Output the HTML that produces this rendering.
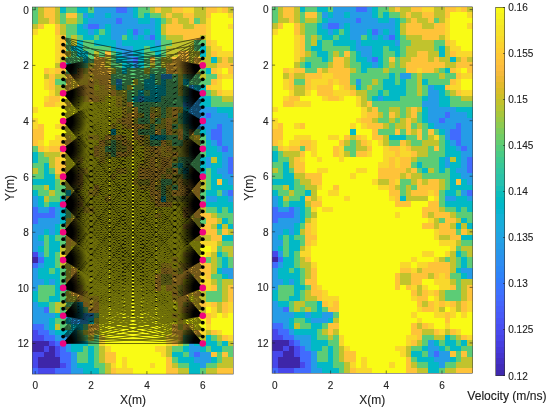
<!DOCTYPE html>
<html><head><meta charset="utf-8"><title>Velocity tomography</title>
<style>
html,body{margin:0;padding:0;background:#fff}
svg{display:block}
text{font-family:"Liberation Sans",sans-serif;fill:#222;stroke:#222;stroke-width:0.12px}
.tk{font-size:10.8px}
.lb{font-size:12px}
.vl{font-size:12.1px;fill:#1a1a1a}
</style></head><body>
<svg width="550" height="409" viewBox="0 0 550 409">
<rect width="550" height="409" fill="#fff"/>
<defs><g id="hm" shape-rendering="crispEdges">
<rect x="0" y="0" width="1.01" height="1.01" fill="#5ccc76"/>
<rect x="0.99" y="0" width="1.02" height="1.01" fill="#c1c32d"/>
<rect x="1.99" y="0" width="2.02" height="1.01" fill="#fec339"/>
<rect x="3.99" y="0" width="1.02" height="1.01" fill="#c1c32d"/>
<rect x="4.99" y="0" width="1.02" height="1.01" fill="#01b9c6"/>
<rect x="5.99" y="0" width="2.02" height="1.01" fill="#5ccc76"/>
<rect x="7.99" y="0" width="2.02" height="1.01" fill="#01b9c6"/>
<rect x="9.99" y="0" width="1.02" height="1.01" fill="#5ccc76"/>
<rect x="10.99" y="0" width="4.02" height="1.01" fill="#259ce7"/>
<rect x="14.99" y="0" width="2.02" height="1.01" fill="#416bfe"/>
<rect x="16.99" y="0" width="1.02" height="1.01" fill="#259ce7"/>
<rect x="17.99" y="0" width="1.02" height="1.01" fill="#01b9c6"/>
<rect x="18.99" y="0" width="2.02" height="1.01" fill="#5ccc76"/>
<rect x="20.99" y="0" width="1.02" height="1.01" fill="#c1c32d"/>
<rect x="21.99" y="0" width="1.02" height="1.01" fill="#fec339"/>
<rect x="22.99" y="0" width="2.02" height="1.01" fill="#c1c32d"/>
<rect x="24.99" y="0" width="2.02" height="1.01" fill="#fec339"/>
<rect x="26.99" y="0" width="2.02" height="1.01" fill="#f9d82c"/>
<rect x="28.99" y="0" width="2.02" height="1.01" fill="#c1c32d"/>
<rect x="30.99" y="0" width="2.02" height="1.01" fill="#fec339"/>
<rect x="32.99" y="0" width="1.02" height="1.01" fill="#f9d82c"/>
<rect x="33.99" y="0" width="1.02" height="1.01" fill="#fec339"/>
<rect x="34.99" y="0" width="1.01" height="1.01" fill="#c1c32d"/>
<rect x="0" y="0.99" width="1.01" height="1.02" fill="#5ccc76"/>
<rect x="0.99" y="0.99" width="1.02" height="1.02" fill="#c1c32d"/>
<rect x="1.99" y="0.99" width="2.02" height="1.02" fill="#fec339"/>
<rect x="3.99" y="0.99" width="1.02" height="1.02" fill="#c1c32d"/>
<rect x="4.99" y="0.99" width="1.02" height="1.02" fill="#5ccc76"/>
<rect x="5.99" y="0.99" width="2.02" height="1.02" fill="#fec339"/>
<rect x="7.99" y="0.99" width="1.02" height="1.02" fill="#5ccc76"/>
<rect x="8.99" y="0.99" width="1.02" height="1.02" fill="#259ce7"/>
<rect x="9.99" y="0.99" width="1.02" height="1.02" fill="#01b9c6"/>
<rect x="10.99" y="0.99" width="2.02" height="1.02" fill="#259ce7"/>
<rect x="12.99" y="0.99" width="1.02" height="1.02" fill="#01b9c6"/>
<rect x="13.99" y="0.99" width="4.02" height="1.02" fill="#259ce7"/>
<rect x="17.99" y="0.99" width="1.02" height="1.02" fill="#01b9c6"/>
<rect x="18.99" y="0.99" width="1.02" height="1.02" fill="#5ccc76"/>
<rect x="19.99" y="0.99" width="1.02" height="1.02" fill="#01b9c6"/>
<rect x="20.99" y="0.99" width="2.02" height="1.02" fill="#5ccc76"/>
<rect x="22.99" y="0.99" width="1.02" height="1.02" fill="#c1c32d"/>
<rect x="23.99" y="0.99" width="1.02" height="1.02" fill="#fec339"/>
<rect x="24.99" y="0.99" width="2.02" height="1.02" fill="#c1c32d"/>
<rect x="26.99" y="0.99" width="2.02" height="1.02" fill="#fec339"/>
<rect x="28.99" y="0.99" width="2.02" height="1.02" fill="#c1c32d"/>
<rect x="30.99" y="0.99" width="1.02" height="1.02" fill="#fec339"/>
<rect x="31.99" y="0.99" width="3.02" height="1.02" fill="#f9fb15"/>
<rect x="34.99" y="0.99" width="1.01" height="1.02" fill="#f9d82c"/>
<rect x="0" y="1.99" width="1.01" height="1.02" fill="#5ccc76"/>
<rect x="0.99" y="1.99" width="2.02" height="1.02" fill="#c1c32d"/>
<rect x="2.99" y="1.99" width="1.02" height="1.02" fill="#fec339"/>
<rect x="3.99" y="1.99" width="1.02" height="1.02" fill="#c1c32d"/>
<rect x="4.99" y="1.99" width="1.02" height="1.02" fill="#5ccc76"/>
<rect x="5.99" y="1.99" width="2.02" height="1.02" fill="#c1c32d"/>
<rect x="7.99" y="1.99" width="1.02" height="1.02" fill="#5ccc76"/>
<rect x="8.99" y="1.99" width="1.02" height="1.02" fill="#01b9c6"/>
<rect x="9.99" y="1.99" width="5.02" height="1.02" fill="#259ce7"/>
<rect x="14.99" y="1.99" width="1.02" height="1.02" fill="#416bfe"/>
<rect x="15.99" y="1.99" width="3.02" height="1.02" fill="#259ce7"/>
<rect x="18.99" y="1.99" width="2.02" height="1.02" fill="#01b9c6"/>
<rect x="20.99" y="1.99" width="1.02" height="1.02" fill="#259ce7"/>
<rect x="21.99" y="1.99" width="1.02" height="1.02" fill="#01b9c6"/>
<rect x="22.99" y="1.99" width="1.02" height="1.02" fill="#5ccc76"/>
<rect x="23.99" y="1.99" width="1.02" height="1.02" fill="#c1c32d"/>
<rect x="24.99" y="1.99" width="1.02" height="1.02" fill="#fec339"/>
<rect x="25.99" y="1.99" width="2.02" height="1.02" fill="#c1c32d"/>
<rect x="27.99" y="1.99" width="1.02" height="1.02" fill="#fec339"/>
<rect x="28.99" y="1.99" width="1.02" height="1.02" fill="#5ccc76"/>
<rect x="29.99" y="1.99" width="1.02" height="1.02" fill="#c1c32d"/>
<rect x="30.99" y="1.99" width="1.02" height="1.02" fill="#f9d82c"/>
<rect x="31.99" y="1.99" width="4.01" height="1.02" fill="#f9fb15"/>
<rect x="0" y="2.99" width="1.01" height="1.02" fill="#c1c32d"/>
<rect x="0.99" y="2.99" width="1.02" height="1.02" fill="#fec339"/>
<rect x="1.99" y="2.99" width="2.02" height="1.02" fill="#f9fb15"/>
<rect x="3.99" y="2.99" width="1.02" height="1.02" fill="#fec339"/>
<rect x="4.99" y="2.99" width="1.02" height="1.02" fill="#c1c32d"/>
<rect x="5.99" y="2.99" width="2.02" height="1.02" fill="#5ccc76"/>
<rect x="7.99" y="2.99" width="1.02" height="1.02" fill="#01b9c6"/>
<rect x="8.99" y="2.99" width="1.02" height="1.02" fill="#259ce7"/>
<rect x="9.99" y="2.99" width="2.02" height="1.02" fill="#416bfe"/>
<rect x="11.99" y="2.99" width="1.02" height="1.02" fill="#259ce7"/>
<rect x="12.99" y="2.99" width="1.02" height="1.02" fill="#01b9c6"/>
<rect x="13.99" y="2.99" width="8.02" height="1.02" fill="#259ce7"/>
<rect x="21.99" y="2.99" width="1.02" height="1.02" fill="#01b9c6"/>
<rect x="22.99" y="2.99" width="1.02" height="1.02" fill="#c1c32d"/>
<rect x="23.99" y="2.99" width="3.02" height="1.02" fill="#fec339"/>
<rect x="26.99" y="2.99" width="2.02" height="1.02" fill="#c1c32d"/>
<rect x="28.99" y="2.99" width="2.02" height="1.02" fill="#fec339"/>
<rect x="30.99" y="2.99" width="1.02" height="1.02" fill="#f9d82c"/>
<rect x="31.99" y="2.99" width="3.02" height="1.02" fill="#f9fb15"/>
<rect x="34.99" y="2.99" width="1.01" height="1.02" fill="#f9d82c"/>
<rect x="0" y="3.99" width="1.01" height="1.02" fill="#f9d82c"/>
<rect x="0.99" y="3.99" width="3.02" height="1.02" fill="#f9fb15"/>
<rect x="3.99" y="3.99" width="1.02" height="1.02" fill="#fec339"/>
<rect x="4.99" y="3.99" width="1.02" height="1.02" fill="#c1c32d"/>
<rect x="5.99" y="3.99" width="2.02" height="1.02" fill="#5ccc76"/>
<rect x="7.99" y="3.99" width="2.02" height="1.02" fill="#01b9c6"/>
<rect x="9.99" y="3.99" width="1.02" height="1.02" fill="#259ce7"/>
<rect x="10.99" y="3.99" width="1.02" height="1.02" fill="#01b9c6"/>
<rect x="11.99" y="3.99" width="1.02" height="1.02" fill="#5ccc76"/>
<rect x="12.99" y="3.99" width="1.02" height="1.02" fill="#01b9c6"/>
<rect x="13.99" y="3.99" width="3.02" height="1.02" fill="#259ce7"/>
<rect x="16.99" y="3.99" width="1.02" height="1.02" fill="#01b9c6"/>
<rect x="17.99" y="3.99" width="1.02" height="1.02" fill="#416bfe"/>
<rect x="18.99" y="3.99" width="1.02" height="1.02" fill="#259ce7"/>
<rect x="19.99" y="3.99" width="1.02" height="1.02" fill="#01b9c6"/>
<rect x="20.99" y="3.99" width="1.02" height="1.02" fill="#259ce7"/>
<rect x="21.99" y="3.99" width="1.02" height="1.02" fill="#01b9c6"/>
<rect x="22.99" y="3.99" width="1.02" height="1.02" fill="#c1c32d"/>
<rect x="23.99" y="3.99" width="7.02" height="1.02" fill="#fec339"/>
<rect x="30.99" y="3.99" width="1.02" height="1.02" fill="#f9d82c"/>
<rect x="31.99" y="3.99" width="4.01" height="1.02" fill="#f9fb15"/>
<rect x="0" y="4.99" width="4.01" height="1.02" fill="#f9fb15"/>
<rect x="3.99" y="4.99" width="1.02" height="1.02" fill="#f9d82c"/>
<rect x="4.99" y="4.99" width="1.02" height="1.02" fill="#fec339"/>
<rect x="5.99" y="4.99" width="1.02" height="1.02" fill="#5ccc76"/>
<rect x="6.99" y="4.99" width="1.02" height="1.02" fill="#c1c32d"/>
<rect x="7.99" y="4.99" width="1.02" height="1.02" fill="#5ccc76"/>
<rect x="8.99" y="4.99" width="2.02" height="1.02" fill="#01b9c6"/>
<rect x="10.99" y="4.99" width="1.02" height="1.02" fill="#5ccc76"/>
<rect x="11.99" y="4.99" width="2.02" height="1.02" fill="#01b9c6"/>
<rect x="13.99" y="4.99" width="2.02" height="1.02" fill="#259ce7"/>
<rect x="15.99" y="4.99" width="1.02" height="1.02" fill="#5ccc76"/>
<rect x="16.99" y="4.99" width="1.02" height="1.02" fill="#01b9c6"/>
<rect x="17.99" y="4.99" width="1.02" height="1.02" fill="#259ce7"/>
<rect x="18.99" y="4.99" width="1.02" height="1.02" fill="#01b9c6"/>
<rect x="19.99" y="4.99" width="1.02" height="1.02" fill="#259ce7"/>
<rect x="20.99" y="4.99" width="1.02" height="1.02" fill="#416bfe"/>
<rect x="21.99" y="4.99" width="1.02" height="1.02" fill="#01b9c6"/>
<rect x="22.99" y="4.99" width="1.02" height="1.02" fill="#5ccc76"/>
<rect x="23.99" y="4.99" width="3.02" height="1.02" fill="#c1c32d"/>
<rect x="26.99" y="4.99" width="3.02" height="1.02" fill="#fec339"/>
<rect x="29.99" y="4.99" width="1.02" height="1.02" fill="#c1c32d"/>
<rect x="30.99" y="4.99" width="1.02" height="1.02" fill="#f9d82c"/>
<rect x="31.99" y="4.99" width="4.01" height="1.02" fill="#f9fb15"/>
<rect x="0" y="5.99" width="4.01" height="1.02" fill="#f9fb15"/>
<rect x="3.99" y="5.99" width="1.02" height="1.02" fill="#f9d82c"/>
<rect x="4.99" y="5.99" width="1.02" height="1.02" fill="#fec339"/>
<rect x="5.99" y="5.99" width="1.02" height="1.02" fill="#5ccc76"/>
<rect x="6.99" y="5.99" width="1.02" height="1.02" fill="#c1c32d"/>
<rect x="7.99" y="5.99" width="1.02" height="1.02" fill="#01b9c6"/>
<rect x="8.99" y="5.99" width="2.02" height="1.02" fill="#5ccc76"/>
<rect x="10.99" y="5.99" width="4.02" height="1.02" fill="#01b9c6"/>
<rect x="14.99" y="5.99" width="1.02" height="1.02" fill="#259ce7"/>
<rect x="15.99" y="5.99" width="6.02" height="1.02" fill="#01b9c6"/>
<rect x="21.99" y="5.99" width="1.02" height="1.02" fill="#259ce7"/>
<rect x="22.99" y="5.99" width="2.02" height="1.02" fill="#5ccc76"/>
<rect x="24.99" y="5.99" width="4.02" height="1.02" fill="#c1c32d"/>
<rect x="28.99" y="5.99" width="2.02" height="1.02" fill="#5ccc76"/>
<rect x="30.99" y="5.99" width="1.02" height="1.02" fill="#fec339"/>
<rect x="31.99" y="5.99" width="1.02" height="1.02" fill="#f9d82c"/>
<rect x="32.99" y="5.99" width="3.01" height="1.02" fill="#f9fb15"/>
<rect x="0" y="6.99" width="4.01" height="1.02" fill="#f9fb15"/>
<rect x="3.99" y="6.99" width="1.02" height="1.02" fill="#f9d82c"/>
<rect x="4.99" y="6.99" width="1.02" height="1.02" fill="#fec339"/>
<rect x="5.99" y="6.99" width="1.02" height="1.02" fill="#5ccc76"/>
<rect x="6.99" y="6.99" width="2.02" height="1.02" fill="#01b9c6"/>
<rect x="8.99" y="6.99" width="5.02" height="1.02" fill="#5ccc76"/>
<rect x="13.99" y="6.99" width="1.02" height="1.02" fill="#01b9c6"/>
<rect x="14.99" y="6.99" width="3.02" height="1.02" fill="#259ce7"/>
<rect x="17.99" y="6.99" width="2.02" height="1.02" fill="#01b9c6"/>
<rect x="19.99" y="6.99" width="1.02" height="1.02" fill="#5ccc76"/>
<rect x="20.99" y="6.99" width="2.02" height="1.02" fill="#01b9c6"/>
<rect x="22.99" y="6.99" width="1.02" height="1.02" fill="#5ccc76"/>
<rect x="23.99" y="6.99" width="5.02" height="1.02" fill="#c1c32d"/>
<rect x="28.99" y="6.99" width="1.02" height="1.02" fill="#5ccc76"/>
<rect x="29.99" y="6.99" width="1.02" height="1.02" fill="#01b9c6"/>
<rect x="30.99" y="6.99" width="1.02" height="1.02" fill="#c1c32d"/>
<rect x="31.99" y="6.99" width="2.02" height="1.02" fill="#f9d82c"/>
<rect x="33.99" y="6.99" width="2.01" height="1.02" fill="#f9fb15"/>
<rect x="0" y="7.99" width="4.01" height="1.02" fill="#f9fb15"/>
<rect x="3.99" y="7.99" width="1.02" height="1.02" fill="#f9d82c"/>
<rect x="4.99" y="7.99" width="1.02" height="1.02" fill="#fec339"/>
<rect x="5.99" y="7.99" width="1.02" height="1.02" fill="#c1c32d"/>
<rect x="6.99" y="7.99" width="1.02" height="1.02" fill="#5ccc76"/>
<rect x="7.99" y="7.99" width="2.02" height="1.02" fill="#01b9c6"/>
<rect x="9.99" y="7.99" width="1.02" height="1.02" fill="#5ccc76"/>
<rect x="10.99" y="7.99" width="1.02" height="1.02" fill="#c1c32d"/>
<rect x="11.99" y="7.99" width="1.02" height="1.02" fill="#5ccc76"/>
<rect x="12.99" y="7.99" width="1.02" height="1.02" fill="#fec339"/>
<rect x="13.99" y="7.99" width="1.02" height="1.02" fill="#5ccc76"/>
<rect x="14.99" y="7.99" width="1.02" height="1.02" fill="#01b9c6"/>
<rect x="15.99" y="7.99" width="2.02" height="1.02" fill="#259ce7"/>
<rect x="17.99" y="7.99" width="2.02" height="1.02" fill="#01b9c6"/>
<rect x="19.99" y="7.99" width="2.02" height="1.02" fill="#5ccc76"/>
<rect x="21.99" y="7.99" width="1.02" height="1.02" fill="#01b9c6"/>
<rect x="22.99" y="7.99" width="1.02" height="1.02" fill="#5ccc76"/>
<rect x="23.99" y="7.99" width="2.02" height="1.02" fill="#c1c32d"/>
<rect x="25.99" y="7.99" width="2.02" height="1.02" fill="#fec339"/>
<rect x="27.99" y="7.99" width="2.02" height="1.02" fill="#c1c32d"/>
<rect x="29.99" y="7.99" width="1.02" height="1.02" fill="#01b9c6"/>
<rect x="30.99" y="7.99" width="1.02" height="1.02" fill="#c1c32d"/>
<rect x="31.99" y="7.99" width="1.02" height="1.02" fill="#fec339"/>
<rect x="32.99" y="7.99" width="3.01" height="1.02" fill="#f9d82c"/>
<rect x="0" y="8.99" width="4.01" height="1.02" fill="#f9fb15"/>
<rect x="3.99" y="8.99" width="1.02" height="1.02" fill="#f9d82c"/>
<rect x="4.99" y="8.99" width="1.02" height="1.02" fill="#c1c32d"/>
<rect x="5.99" y="8.99" width="3.02" height="1.02" fill="#5ccc76"/>
<rect x="8.99" y="8.99" width="1.02" height="1.02" fill="#01b9c6"/>
<rect x="9.99" y="8.99" width="1.02" height="1.02" fill="#5ccc76"/>
<rect x="10.99" y="8.99" width="2.02" height="1.02" fill="#fec339"/>
<rect x="12.99" y="8.99" width="1.02" height="1.02" fill="#c1c32d"/>
<rect x="13.99" y="8.99" width="1.02" height="1.02" fill="#5ccc76"/>
<rect x="14.99" y="8.99" width="2.02" height="1.02" fill="#01b9c6"/>
<rect x="16.99" y="8.99" width="1.02" height="1.02" fill="#259ce7"/>
<rect x="17.99" y="8.99" width="1.02" height="1.02" fill="#416bfe"/>
<rect x="18.99" y="8.99" width="1.02" height="1.02" fill="#01b9c6"/>
<rect x="19.99" y="8.99" width="1.02" height="1.02" fill="#5ccc76"/>
<rect x="20.99" y="8.99" width="1.02" height="1.02" fill="#fec339"/>
<rect x="21.99" y="8.99" width="1.02" height="1.02" fill="#5ccc76"/>
<rect x="22.99" y="8.99" width="2.02" height="1.02" fill="#c1c32d"/>
<rect x="24.99" y="8.99" width="3.02" height="1.02" fill="#fec339"/>
<rect x="27.99" y="8.99" width="1.02" height="1.02" fill="#c1c32d"/>
<rect x="28.99" y="8.99" width="1.02" height="1.02" fill="#fec339"/>
<rect x="29.99" y="8.99" width="2.02" height="1.02" fill="#c1c32d"/>
<rect x="31.99" y="8.99" width="1.02" height="1.02" fill="#01b9c6"/>
<rect x="32.99" y="8.99" width="1.02" height="1.02" fill="#c1c32d"/>
<rect x="33.99" y="8.99" width="1.02" height="1.02" fill="#fec339"/>
<rect x="34.99" y="8.99" width="1.01" height="1.02" fill="#c1c32d"/>
<rect x="0" y="9.99" width="4.01" height="1.02" fill="#f9fb15"/>
<rect x="3.99" y="9.99" width="1.02" height="1.02" fill="#c1c32d"/>
<rect x="4.99" y="9.99" width="1.02" height="1.02" fill="#5ccc76"/>
<rect x="5.99" y="9.99" width="1.02" height="1.02" fill="#01b9c6"/>
<rect x="6.99" y="9.99" width="3.02" height="1.02" fill="#5ccc76"/>
<rect x="9.99" y="9.99" width="1.02" height="1.02" fill="#c1c32d"/>
<rect x="10.99" y="9.99" width="2.02" height="1.02" fill="#fec339"/>
<rect x="12.99" y="9.99" width="1.02" height="1.02" fill="#c1c32d"/>
<rect x="13.99" y="9.99" width="2.02" height="1.02" fill="#5ccc76"/>
<rect x="15.99" y="9.99" width="2.02" height="1.02" fill="#01b9c6"/>
<rect x="17.99" y="9.99" width="1.02" height="1.02" fill="#259ce7"/>
<rect x="18.99" y="9.99" width="1.02" height="1.02" fill="#01b9c6"/>
<rect x="19.99" y="9.99" width="1.02" height="1.02" fill="#5ccc76"/>
<rect x="20.99" y="9.99" width="1.02" height="1.02" fill="#c1c32d"/>
<rect x="21.99" y="9.99" width="1.02" height="1.02" fill="#5ccc76"/>
<rect x="22.99" y="9.99" width="1.02" height="1.02" fill="#c1c32d"/>
<rect x="23.99" y="9.99" width="7.02" height="1.02" fill="#fec339"/>
<rect x="30.99" y="9.99" width="2.02" height="1.02" fill="#c1c32d"/>
<rect x="32.99" y="9.99" width="3.01" height="1.02" fill="#fec339"/>
<rect x="0" y="10.99" width="2.01" height="1.02" fill="#f9fb15"/>
<rect x="1.99" y="10.99" width="1.02" height="1.02" fill="#fec339"/>
<rect x="2.99" y="10.99" width="1.02" height="1.02" fill="#f9d82c"/>
<rect x="3.99" y="10.99" width="2.02" height="1.02" fill="#fec339"/>
<rect x="5.99" y="10.99" width="2.02" height="1.02" fill="#5ccc76"/>
<rect x="7.99" y="10.99" width="1.02" height="1.02" fill="#fec339"/>
<rect x="8.99" y="10.99" width="1.02" height="1.02" fill="#c1c32d"/>
<rect x="9.99" y="10.99" width="4.02" height="1.02" fill="#fec339"/>
<rect x="13.99" y="10.99" width="1.02" height="1.02" fill="#c1c32d"/>
<rect x="14.99" y="10.99" width="1.02" height="1.02" fill="#5ccc76"/>
<rect x="15.99" y="10.99" width="1.02" height="1.02" fill="#01b9c6"/>
<rect x="16.99" y="10.99" width="3.02" height="1.02" fill="#5ccc76"/>
<rect x="19.99" y="10.99" width="1.02" height="1.02" fill="#c1c32d"/>
<rect x="20.99" y="10.99" width="3.02" height="1.02" fill="#5ccc76"/>
<rect x="23.99" y="10.99" width="2.02" height="1.02" fill="#fec339"/>
<rect x="25.99" y="10.99" width="1.02" height="1.02" fill="#f9d82c"/>
<rect x="26.99" y="10.99" width="2.02" height="1.02" fill="#fec339"/>
<rect x="28.99" y="10.99" width="1.02" height="1.02" fill="#c1c32d"/>
<rect x="29.99" y="10.99" width="1.02" height="1.02" fill="#5ccc76"/>
<rect x="30.99" y="10.99" width="1.02" height="1.02" fill="#01b9c6"/>
<rect x="31.99" y="10.99" width="1.02" height="1.02" fill="#fec339"/>
<rect x="32.99" y="10.99" width="1.02" height="1.02" fill="#f9d82c"/>
<rect x="33.99" y="10.99" width="1.02" height="1.02" fill="#f9fb15"/>
<rect x="34.99" y="10.99" width="1.01" height="1.02" fill="#fec339"/>
<rect x="0" y="11.99" width="2.01" height="1.02" fill="#f9fb15"/>
<rect x="1.99" y="11.99" width="1.02" height="1.02" fill="#c1c32d"/>
<rect x="2.99" y="11.99" width="1.02" height="1.02" fill="#fec339"/>
<rect x="3.99" y="11.99" width="2.02" height="1.02" fill="#c1c32d"/>
<rect x="5.99" y="11.99" width="3.02" height="1.02" fill="#fec339"/>
<rect x="8.99" y="11.99" width="2.02" height="1.02" fill="#f9d82c"/>
<rect x="10.99" y="11.99" width="3.02" height="1.02" fill="#fec339"/>
<rect x="13.99" y="11.99" width="7.02" height="1.02" fill="#5ccc76"/>
<rect x="20.99" y="11.99" width="1.02" height="1.02" fill="#01b9c6"/>
<rect x="21.99" y="11.99" width="1.02" height="1.02" fill="#5ccc76"/>
<rect x="22.99" y="11.99" width="2.02" height="1.02" fill="#259ce7"/>
<rect x="24.99" y="11.99" width="1.02" height="1.02" fill="#5ccc76"/>
<rect x="25.99" y="11.99" width="1.02" height="1.02" fill="#c1c32d"/>
<rect x="26.99" y="11.99" width="3.02" height="1.02" fill="#5ccc76"/>
<rect x="29.99" y="11.99" width="1.02" height="1.02" fill="#c1c32d"/>
<rect x="30.99" y="11.99" width="2.02" height="1.02" fill="#5ccc76"/>
<rect x="32.99" y="11.99" width="1.02" height="1.02" fill="#fec339"/>
<rect x="33.99" y="11.99" width="2.01" height="1.02" fill="#f9d82c"/>
<rect x="0" y="12.99" width="2.01" height="1.02" fill="#f9fb15"/>
<rect x="1.99" y="12.99" width="1.02" height="1.02" fill="#f9d82c"/>
<rect x="2.99" y="12.99" width="1.02" height="1.02" fill="#fec339"/>
<rect x="3.99" y="12.99" width="2.02" height="1.02" fill="#5ccc76"/>
<rect x="5.99" y="12.99" width="1.02" height="1.02" fill="#fec339"/>
<rect x="6.99" y="12.99" width="3.02" height="1.02" fill="#f9d82c"/>
<rect x="9.99" y="12.99" width="1.02" height="1.02" fill="#fec339"/>
<rect x="10.99" y="12.99" width="1.02" height="1.02" fill="#f9d82c"/>
<rect x="11.99" y="12.99" width="2.02" height="1.02" fill="#fec339"/>
<rect x="13.99" y="12.99" width="1.02" height="1.02" fill="#5ccc76"/>
<rect x="14.99" y="12.99" width="1.02" height="1.02" fill="#259ce7"/>
<rect x="15.99" y="12.99" width="2.02" height="1.02" fill="#5ccc76"/>
<rect x="17.99" y="12.99" width="1.02" height="1.02" fill="#c1c32d"/>
<rect x="18.99" y="12.99" width="1.02" height="1.02" fill="#5ccc76"/>
<rect x="19.99" y="12.99" width="2.02" height="1.02" fill="#01b9c6"/>
<rect x="21.99" y="12.99" width="1.02" height="1.02" fill="#5ccc76"/>
<rect x="22.99" y="12.99" width="1.02" height="1.02" fill="#01b9c6"/>
<rect x="23.99" y="12.99" width="2.02" height="1.02" fill="#5ccc76"/>
<rect x="25.99" y="12.99" width="1.02" height="1.02" fill="#c1c32d"/>
<rect x="26.99" y="12.99" width="1.02" height="1.02" fill="#01b9c6"/>
<rect x="27.99" y="12.99" width="4.02" height="1.02" fill="#5ccc76"/>
<rect x="31.99" y="12.99" width="1.02" height="1.02" fill="#fec339"/>
<rect x="32.99" y="12.99" width="1.02" height="1.02" fill="#f9d82c"/>
<rect x="33.99" y="12.99" width="2.01" height="1.02" fill="#f9fb15"/>
<rect x="0" y="13.99" width="2.01" height="1.02" fill="#f9fb15"/>
<rect x="1.99" y="13.99" width="1.02" height="1.02" fill="#f9d82c"/>
<rect x="2.99" y="13.99" width="1.02" height="1.02" fill="#fec339"/>
<rect x="3.99" y="13.99" width="2.02" height="1.02" fill="#c1c32d"/>
<rect x="5.99" y="13.99" width="1.02" height="1.02" fill="#fec339"/>
<rect x="6.99" y="13.99" width="1.02" height="1.02" fill="#f9d82c"/>
<rect x="7.99" y="13.99" width="3.02" height="1.02" fill="#fec339"/>
<rect x="10.99" y="13.99" width="1.02" height="1.02" fill="#f9fb15"/>
<rect x="11.99" y="13.99" width="1.02" height="1.02" fill="#f9d82c"/>
<rect x="12.99" y="13.99" width="1.02" height="1.02" fill="#fec339"/>
<rect x="13.99" y="13.99" width="1.02" height="1.02" fill="#c1c32d"/>
<rect x="14.99" y="13.99" width="1.02" height="1.02" fill="#01b9c6"/>
<rect x="15.99" y="13.99" width="1.02" height="1.02" fill="#5ccc76"/>
<rect x="16.99" y="13.99" width="1.02" height="1.02" fill="#c1c32d"/>
<rect x="17.99" y="13.99" width="2.02" height="1.02" fill="#5ccc76"/>
<rect x="19.99" y="13.99" width="4.02" height="1.02" fill="#01b9c6"/>
<rect x="23.99" y="13.99" width="2.02" height="1.02" fill="#5ccc76"/>
<rect x="25.99" y="13.99" width="1.02" height="1.02" fill="#c1c32d"/>
<rect x="26.99" y="13.99" width="1.02" height="1.02" fill="#5ccc76"/>
<rect x="27.99" y="13.99" width="1.02" height="1.02" fill="#259ce7"/>
<rect x="28.99" y="13.99" width="2.02" height="1.02" fill="#01b9c6"/>
<rect x="30.99" y="13.99" width="1.02" height="1.02" fill="#fec339"/>
<rect x="31.99" y="13.99" width="2.02" height="1.02" fill="#f9d82c"/>
<rect x="33.99" y="13.99" width="2.01" height="1.02" fill="#f9fb15"/>
<rect x="0" y="14.99" width="3.01" height="1.02" fill="#f9fb15"/>
<rect x="2.99" y="14.99" width="1.02" height="1.02" fill="#f9d82c"/>
<rect x="3.99" y="14.99" width="2.02" height="1.02" fill="#c1c32d"/>
<rect x="5.99" y="14.99" width="1.02" height="1.02" fill="#f9d82c"/>
<rect x="6.99" y="14.99" width="1.02" height="1.02" fill="#f9fb15"/>
<rect x="7.99" y="14.99" width="3.02" height="1.02" fill="#fec339"/>
<rect x="10.99" y="14.99" width="3.02" height="1.02" fill="#f9d82c"/>
<rect x="13.99" y="14.99" width="1.02" height="1.02" fill="#fec339"/>
<rect x="14.99" y="14.99" width="2.02" height="1.02" fill="#c1c32d"/>
<rect x="16.99" y="14.99" width="2.02" height="1.02" fill="#5ccc76"/>
<rect x="18.99" y="14.99" width="1.02" height="1.02" fill="#01b9c6"/>
<rect x="19.99" y="14.99" width="1.02" height="1.02" fill="#5ccc76"/>
<rect x="20.99" y="14.99" width="3.02" height="1.02" fill="#01b9c6"/>
<rect x="23.99" y="14.99" width="2.02" height="1.02" fill="#5ccc76"/>
<rect x="25.99" y="14.99" width="1.02" height="1.02" fill="#c1c32d"/>
<rect x="26.99" y="14.99" width="1.02" height="1.02" fill="#5ccc76"/>
<rect x="27.99" y="14.99" width="2.02" height="1.02" fill="#259ce7"/>
<rect x="29.99" y="14.99" width="1.02" height="1.02" fill="#01b9c6"/>
<rect x="30.99" y="14.99" width="1.02" height="1.02" fill="#5ccc76"/>
<rect x="31.99" y="14.99" width="1.02" height="1.02" fill="#c1c32d"/>
<rect x="32.99" y="14.99" width="1.02" height="1.02" fill="#fec339"/>
<rect x="33.99" y="14.99" width="2.01" height="1.02" fill="#f9d82c"/>
<rect x="0" y="15.99" width="2.01" height="1.02" fill="#f9fb15"/>
<rect x="1.99" y="15.99" width="1.02" height="1.02" fill="#f9d82c"/>
<rect x="2.99" y="15.99" width="2.02" height="1.02" fill="#fec339"/>
<rect x="4.99" y="15.99" width="4.02" height="1.02" fill="#f9fb15"/>
<rect x="8.99" y="15.99" width="1.02" height="1.02" fill="#f9d82c"/>
<rect x="9.99" y="15.99" width="2.02" height="1.02" fill="#fec339"/>
<rect x="11.99" y="15.99" width="1.02" height="1.02" fill="#f9d82c"/>
<rect x="12.99" y="15.99" width="2.02" height="1.02" fill="#f9fb15"/>
<rect x="14.99" y="15.99" width="1.02" height="1.02" fill="#f9d82c"/>
<rect x="15.99" y="15.99" width="1.02" height="1.02" fill="#c1c32d"/>
<rect x="16.99" y="15.99" width="1.02" height="1.02" fill="#5ccc76"/>
<rect x="17.99" y="15.99" width="1.02" height="1.02" fill="#01b9c6"/>
<rect x="18.99" y="15.99" width="1.02" height="1.02" fill="#259ce7"/>
<rect x="19.99" y="15.99" width="3.02" height="1.02" fill="#01b9c6"/>
<rect x="22.99" y="15.99" width="4.02" height="1.02" fill="#5ccc76"/>
<rect x="26.99" y="15.99" width="1.02" height="1.02" fill="#01b9c6"/>
<rect x="27.99" y="15.99" width="2.02" height="1.02" fill="#259ce7"/>
<rect x="29.99" y="15.99" width="2.02" height="1.02" fill="#01b9c6"/>
<rect x="31.99" y="15.99" width="2.02" height="1.02" fill="#5ccc76"/>
<rect x="33.99" y="15.99" width="2.01" height="1.02" fill="#c1c32d"/>
<rect x="0" y="16.99" width="2.01" height="1.02" fill="#f9fb15"/>
<rect x="1.99" y="16.99" width="2.02" height="1.02" fill="#fec339"/>
<rect x="3.99" y="16.99" width="3.02" height="1.02" fill="#f9d82c"/>
<rect x="6.99" y="16.99" width="8.02" height="1.02" fill="#f9fb15"/>
<rect x="14.99" y="16.99" width="1.02" height="1.02" fill="#f9d82c"/>
<rect x="15.99" y="16.99" width="1.02" height="1.02" fill="#c1c32d"/>
<rect x="16.99" y="16.99" width="1.02" height="1.02" fill="#fec339"/>
<rect x="17.99" y="16.99" width="9.02" height="1.02" fill="#5ccc76"/>
<rect x="26.99" y="16.99" width="3.02" height="1.02" fill="#259ce7"/>
<rect x="29.99" y="16.99" width="2.02" height="1.02" fill="#01b9c6"/>
<rect x="31.99" y="16.99" width="4.01" height="1.02" fill="#5ccc76"/>
<rect x="0" y="17.99" width="1.01" height="1.02" fill="#f9d82c"/>
<rect x="0.99" y="17.99" width="15.02" height="1.02" fill="#f9fb15"/>
<rect x="15.99" y="17.99" width="1.02" height="1.02" fill="#f9d82c"/>
<rect x="16.99" y="17.99" width="1.02" height="1.02" fill="#c1c32d"/>
<rect x="17.99" y="17.99" width="1.02" height="1.02" fill="#fec339"/>
<rect x="18.99" y="17.99" width="2.02" height="1.02" fill="#5ccc76"/>
<rect x="20.99" y="17.99" width="2.02" height="1.02" fill="#c1c32d"/>
<rect x="22.99" y="17.99" width="1.02" height="1.02" fill="#5ccc76"/>
<rect x="23.99" y="17.99" width="1.02" height="1.02" fill="#c1c32d"/>
<rect x="24.99" y="17.99" width="1.02" height="1.02" fill="#fec339"/>
<rect x="25.99" y="17.99" width="1.02" height="1.02" fill="#c1c32d"/>
<rect x="26.99" y="17.99" width="1.02" height="1.02" fill="#01b9c6"/>
<rect x="27.99" y="17.99" width="5.02" height="1.02" fill="#259ce7"/>
<rect x="32.99" y="17.99" width="3.01" height="1.02" fill="#01b9c6"/>
<rect x="0" y="18.99" width="16.01" height="1.02" fill="#f9fb15"/>
<rect x="15.99" y="18.99" width="1.02" height="1.02" fill="#f9d82c"/>
<rect x="16.99" y="18.99" width="2.02" height="1.02" fill="#fec339"/>
<rect x="18.99" y="18.99" width="1.02" height="1.02" fill="#c1c32d"/>
<rect x="19.99" y="18.99" width="1.02" height="1.02" fill="#5ccc76"/>
<rect x="20.99" y="18.99" width="1.02" height="1.02" fill="#fec339"/>
<rect x="21.99" y="18.99" width="1.02" height="1.02" fill="#c1c32d"/>
<rect x="22.99" y="18.99" width="1.02" height="1.02" fill="#5ccc76"/>
<rect x="23.99" y="18.99" width="1.02" height="1.02" fill="#c1c32d"/>
<rect x="24.99" y="18.99" width="1.02" height="1.02" fill="#fec339"/>
<rect x="25.99" y="18.99" width="1.02" height="1.02" fill="#5ccc76"/>
<rect x="26.99" y="18.99" width="1.02" height="1.02" fill="#01b9c6"/>
<rect x="27.99" y="18.99" width="3.02" height="1.02" fill="#259ce7"/>
<rect x="30.99" y="18.99" width="1.02" height="1.02" fill="#416bfe"/>
<rect x="31.99" y="18.99" width="3.02" height="1.02" fill="#259ce7"/>
<rect x="34.99" y="18.99" width="1.01" height="1.02" fill="#01b9c6"/>
<rect x="0" y="19.99" width="1.01" height="1.02" fill="#f9d82c"/>
<rect x="0.99" y="19.99" width="14.02" height="1.02" fill="#f9fb15"/>
<rect x="14.99" y="19.99" width="1.02" height="1.02" fill="#f9d82c"/>
<rect x="15.99" y="19.99" width="2.02" height="1.02" fill="#fec339"/>
<rect x="17.99" y="19.99" width="1.02" height="1.02" fill="#c1c32d"/>
<rect x="18.99" y="19.99" width="2.02" height="1.02" fill="#5ccc76"/>
<rect x="20.99" y="19.99" width="1.02" height="1.02" fill="#c1c32d"/>
<rect x="21.99" y="19.99" width="1.02" height="1.02" fill="#5ccc76"/>
<rect x="22.99" y="19.99" width="1.02" height="1.02" fill="#c1c32d"/>
<rect x="23.99" y="19.99" width="1.02" height="1.02" fill="#fec339"/>
<rect x="24.99" y="19.99" width="1.02" height="1.02" fill="#c1c32d"/>
<rect x="25.99" y="19.99" width="1.02" height="1.02" fill="#5ccc76"/>
<rect x="26.99" y="19.99" width="1.02" height="1.02" fill="#01b9c6"/>
<rect x="27.99" y="19.99" width="2.02" height="1.02" fill="#259ce7"/>
<rect x="29.99" y="19.99" width="1.02" height="1.02" fill="#416bfe"/>
<rect x="30.99" y="19.99" width="5.01" height="1.02" fill="#259ce7"/>
<rect x="0" y="20.99" width="1.01" height="1.02" fill="#f9d82c"/>
<rect x="0.99" y="20.99" width="1.02" height="1.02" fill="#fec339"/>
<rect x="1.99" y="20.99" width="2.02" height="1.02" fill="#f9fb15"/>
<rect x="3.99" y="20.99" width="1.02" height="1.02" fill="#f9d82c"/>
<rect x="4.99" y="20.99" width="1.02" height="1.02" fill="#fec339"/>
<rect x="5.99" y="20.99" width="8.02" height="1.02" fill="#f9fb15"/>
<rect x="13.99" y="20.99" width="1.02" height="1.02" fill="#f9d82c"/>
<rect x="14.99" y="20.99" width="1.02" height="1.02" fill="#f9fb15"/>
<rect x="15.99" y="20.99" width="1.02" height="1.02" fill="#f9d82c"/>
<rect x="16.99" y="20.99" width="3.02" height="1.02" fill="#fec339"/>
<rect x="19.99" y="20.99" width="1.02" height="1.02" fill="#c1c32d"/>
<rect x="20.99" y="20.99" width="1.02" height="1.02" fill="#5ccc76"/>
<rect x="21.99" y="20.99" width="2.02" height="1.02" fill="#c1c32d"/>
<rect x="23.99" y="20.99" width="1.02" height="1.02" fill="#fec339"/>
<rect x="24.99" y="20.99" width="1.02" height="1.02" fill="#5ccc76"/>
<rect x="25.99" y="20.99" width="1.02" height="1.02" fill="#c1c32d"/>
<rect x="26.99" y="20.99" width="1.02" height="1.02" fill="#5ccc76"/>
<rect x="27.99" y="20.99" width="1.02" height="1.02" fill="#01b9c6"/>
<rect x="28.99" y="20.99" width="4.02" height="1.02" fill="#259ce7"/>
<rect x="32.99" y="20.99" width="1.02" height="1.02" fill="#416bfe"/>
<rect x="33.99" y="20.99" width="2.01" height="1.02" fill="#259ce7"/>
<rect x="0" y="21.99" width="2.01" height="1.02" fill="#fec339"/>
<rect x="1.99" y="21.99" width="12.02" height="1.02" fill="#f9fb15"/>
<rect x="13.99" y="21.99" width="1.02" height="1.02" fill="#01b9c6"/>
<rect x="14.99" y="21.99" width="3.02" height="1.02" fill="#f9fb15"/>
<rect x="17.99" y="21.99" width="1.02" height="1.02" fill="#fec339"/>
<rect x="18.99" y="21.99" width="3.02" height="1.02" fill="#5ccc76"/>
<rect x="21.99" y="21.99" width="1.02" height="1.02" fill="#fec339"/>
<rect x="22.99" y="21.99" width="1.02" height="1.02" fill="#5ccc76"/>
<rect x="23.99" y="21.99" width="1.02" height="1.02" fill="#fec339"/>
<rect x="24.99" y="21.99" width="1.02" height="1.02" fill="#c1c32d"/>
<rect x="25.99" y="21.99" width="1.02" height="1.02" fill="#fec339"/>
<rect x="26.99" y="21.99" width="1.02" height="1.02" fill="#5ccc76"/>
<rect x="27.99" y="21.99" width="1.02" height="1.02" fill="#fec339"/>
<rect x="28.99" y="21.99" width="1.02" height="1.02" fill="#5ccc76"/>
<rect x="29.99" y="21.99" width="1.02" height="1.02" fill="#01b9c6"/>
<rect x="30.99" y="21.99" width="1.02" height="1.02" fill="#259ce7"/>
<rect x="31.99" y="21.99" width="2.02" height="1.02" fill="#416bfe"/>
<rect x="33.99" y="21.99" width="2.01" height="1.02" fill="#259ce7"/>
<rect x="0" y="22.99" width="2.01" height="1.02" fill="#fec339"/>
<rect x="1.99" y="22.99" width="2.02" height="1.02" fill="#f9fb15"/>
<rect x="3.99" y="22.99" width="3.02" height="1.02" fill="#f9d82c"/>
<rect x="6.99" y="22.99" width="3.02" height="1.02" fill="#f9fb15"/>
<rect x="9.99" y="22.99" width="2.02" height="1.02" fill="#f9d82c"/>
<rect x="11.99" y="22.99" width="1.02" height="1.02" fill="#f9fb15"/>
<rect x="12.99" y="22.99" width="1.02" height="1.02" fill="#fec339"/>
<rect x="13.99" y="22.99" width="1.02" height="1.02" fill="#c1c32d"/>
<rect x="14.99" y="22.99" width="1.02" height="1.02" fill="#fec339"/>
<rect x="15.99" y="22.99" width="1.02" height="1.02" fill="#f9d82c"/>
<rect x="16.99" y="22.99" width="1.02" height="1.02" fill="#f9fb15"/>
<rect x="17.99" y="22.99" width="2.02" height="1.02" fill="#fec339"/>
<rect x="19.99" y="22.99" width="1.02" height="1.02" fill="#c1c32d"/>
<rect x="20.99" y="22.99" width="3.02" height="1.02" fill="#01b9c6"/>
<rect x="23.99" y="22.99" width="2.02" height="1.02" fill="#5ccc76"/>
<rect x="25.99" y="22.99" width="1.02" height="1.02" fill="#fec339"/>
<rect x="26.99" y="22.99" width="1.02" height="1.02" fill="#5ccc76"/>
<rect x="27.99" y="22.99" width="1.02" height="1.02" fill="#c1c32d"/>
<rect x="28.99" y="22.99" width="1.02" height="1.02" fill="#f9d82c"/>
<rect x="29.99" y="22.99" width="1.02" height="1.02" fill="#5ccc76"/>
<rect x="30.99" y="22.99" width="1.02" height="1.02" fill="#259ce7"/>
<rect x="31.99" y="22.99" width="2.02" height="1.02" fill="#416bfe"/>
<rect x="33.99" y="22.99" width="2.01" height="1.02" fill="#259ce7"/>
<rect x="0" y="23.99" width="1.01" height="1.02" fill="#fec339"/>
<rect x="0.99" y="23.99" width="1.02" height="1.02" fill="#f9d82c"/>
<rect x="1.99" y="23.99" width="1.02" height="1.02" fill="#f9fb15"/>
<rect x="2.99" y="23.99" width="2.02" height="1.02" fill="#f9d82c"/>
<rect x="4.99" y="23.99" width="2.02" height="1.02" fill="#fec339"/>
<rect x="6.99" y="23.99" width="1.02" height="1.02" fill="#f9d82c"/>
<rect x="7.99" y="23.99" width="4.02" height="1.02" fill="#f9fb15"/>
<rect x="11.99" y="23.99" width="1.02" height="1.02" fill="#fec339"/>
<rect x="12.99" y="23.99" width="1.02" height="1.02" fill="#c1c32d"/>
<rect x="13.99" y="23.99" width="1.02" height="1.02" fill="#5ccc76"/>
<rect x="14.99" y="23.99" width="1.02" height="1.02" fill="#c1c32d"/>
<rect x="15.99" y="23.99" width="1.02" height="1.02" fill="#fec339"/>
<rect x="16.99" y="23.99" width="1.02" height="1.02" fill="#f9d82c"/>
<rect x="17.99" y="23.99" width="1.02" height="1.02" fill="#f9fb15"/>
<rect x="18.99" y="23.99" width="1.02" height="1.02" fill="#f9d82c"/>
<rect x="19.99" y="23.99" width="1.02" height="1.02" fill="#c1c32d"/>
<rect x="20.99" y="23.99" width="2.02" height="1.02" fill="#5ccc76"/>
<rect x="22.99" y="23.99" width="1.02" height="1.02" fill="#fec339"/>
<rect x="23.99" y="23.99" width="1.02" height="1.02" fill="#c1c32d"/>
<rect x="24.99" y="23.99" width="2.02" height="1.02" fill="#5ccc76"/>
<rect x="26.99" y="23.99" width="3.02" height="1.02" fill="#c1c32d"/>
<rect x="29.99" y="23.99" width="1.02" height="1.02" fill="#5ccc76"/>
<rect x="30.99" y="23.99" width="1.02" height="1.02" fill="#01b9c6"/>
<rect x="31.99" y="23.99" width="1.02" height="1.02" fill="#259ce7"/>
<rect x="32.99" y="23.99" width="1.02" height="1.02" fill="#416bfe"/>
<rect x="33.99" y="23.99" width="2.01" height="1.02" fill="#259ce7"/>
<rect x="0" y="24.99" width="1.01" height="1.02" fill="#5ccc76"/>
<rect x="0.99" y="24.99" width="1.02" height="1.02" fill="#fec339"/>
<rect x="1.99" y="24.99" width="1.02" height="1.02" fill="#f9d82c"/>
<rect x="2.99" y="24.99" width="2.02" height="1.02" fill="#fec339"/>
<rect x="4.99" y="24.99" width="1.02" height="1.02" fill="#5ccc76"/>
<rect x="5.99" y="24.99" width="1.02" height="1.02" fill="#fec339"/>
<rect x="6.99" y="24.99" width="1.02" height="1.02" fill="#f9d82c"/>
<rect x="7.99" y="24.99" width="3.02" height="1.02" fill="#f9fb15"/>
<rect x="10.99" y="24.99" width="1.02" height="1.02" fill="#fec339"/>
<rect x="11.99" y="24.99" width="1.02" height="1.02" fill="#f9d82c"/>
<rect x="12.99" y="24.99" width="2.02" height="1.02" fill="#5ccc76"/>
<rect x="14.99" y="24.99" width="2.02" height="1.02" fill="#c1c32d"/>
<rect x="16.99" y="24.99" width="1.02" height="1.02" fill="#fec339"/>
<rect x="17.99" y="24.99" width="2.02" height="1.02" fill="#f9fb15"/>
<rect x="19.99" y="24.99" width="1.02" height="1.02" fill="#f9d82c"/>
<rect x="20.99" y="24.99" width="2.02" height="1.02" fill="#fec339"/>
<rect x="22.99" y="24.99" width="1.02" height="1.02" fill="#f9d82c"/>
<rect x="23.99" y="24.99" width="1.02" height="1.02" fill="#fec339"/>
<rect x="24.99" y="24.99" width="3.02" height="1.02" fill="#c1c32d"/>
<rect x="27.99" y="24.99" width="1.02" height="1.02" fill="#5ccc76"/>
<rect x="28.99" y="24.99" width="1.02" height="1.02" fill="#fec339"/>
<rect x="29.99" y="24.99" width="1.02" height="1.02" fill="#5ccc76"/>
<rect x="30.99" y="24.99" width="2.02" height="1.02" fill="#01b9c6"/>
<rect x="32.99" y="24.99" width="1.02" height="1.02" fill="#259ce7"/>
<rect x="33.99" y="24.99" width="1.02" height="1.02" fill="#416bfe"/>
<rect x="34.99" y="24.99" width="1.01" height="1.02" fill="#259ce7"/>
<rect x="0" y="25.99" width="1.01" height="1.02" fill="#01b9c6"/>
<rect x="0.99" y="25.99" width="1.02" height="1.02" fill="#5ccc76"/>
<rect x="1.99" y="25.99" width="3.02" height="1.02" fill="#c1c32d"/>
<rect x="4.99" y="25.99" width="1.02" height="1.02" fill="#fec339"/>
<rect x="5.99" y="25.99" width="1.02" height="1.02" fill="#f9fb15"/>
<rect x="6.99" y="25.99" width="1.02" height="1.02" fill="#f9d82c"/>
<rect x="7.99" y="25.99" width="3.02" height="1.02" fill="#f9fb15"/>
<rect x="10.99" y="25.99" width="1.02" height="1.02" fill="#fec339"/>
<rect x="11.99" y="25.99" width="1.02" height="1.02" fill="#f9d82c"/>
<rect x="12.99" y="25.99" width="1.02" height="1.02" fill="#c1c32d"/>
<rect x="13.99" y="25.99" width="1.02" height="1.02" fill="#5ccc76"/>
<rect x="14.99" y="25.99" width="2.02" height="1.02" fill="#fec339"/>
<rect x="16.99" y="25.99" width="1.02" height="1.02" fill="#f9d82c"/>
<rect x="17.99" y="25.99" width="2.02" height="1.02" fill="#f9fb15"/>
<rect x="19.99" y="25.99" width="2.02" height="1.02" fill="#f9d82c"/>
<rect x="21.99" y="25.99" width="1.02" height="1.02" fill="#fec339"/>
<rect x="22.99" y="25.99" width="2.02" height="1.02" fill="#f9d82c"/>
<rect x="24.99" y="25.99" width="1.02" height="1.02" fill="#fec339"/>
<rect x="25.99" y="25.99" width="2.02" height="1.02" fill="#c1c32d"/>
<rect x="27.99" y="25.99" width="3.02" height="1.02" fill="#5ccc76"/>
<rect x="30.99" y="25.99" width="3.02" height="1.02" fill="#01b9c6"/>
<rect x="33.99" y="25.99" width="2.01" height="1.02" fill="#259ce7"/>
<rect x="0" y="26.99" width="1.01" height="1.02" fill="#01b9c6"/>
<rect x="0.99" y="26.99" width="2.02" height="1.02" fill="#5ccc76"/>
<rect x="2.99" y="26.99" width="1.02" height="1.02" fill="#c1c32d"/>
<rect x="3.99" y="26.99" width="1.02" height="1.02" fill="#fec339"/>
<rect x="4.99" y="26.99" width="1.02" height="1.02" fill="#f9d82c"/>
<rect x="5.99" y="26.99" width="2.02" height="1.02" fill="#f9fb15"/>
<rect x="7.99" y="26.99" width="1.02" height="1.02" fill="#f9d82c"/>
<rect x="8.99" y="26.99" width="3.02" height="1.02" fill="#f9fb15"/>
<rect x="11.99" y="26.99" width="1.02" height="1.02" fill="#f9d82c"/>
<rect x="12.99" y="26.99" width="7.02" height="1.02" fill="#f9fb15"/>
<rect x="19.99" y="26.99" width="1.02" height="1.02" fill="#f9d82c"/>
<rect x="20.99" y="26.99" width="1.02" height="1.02" fill="#fec339"/>
<rect x="21.99" y="26.99" width="1.02" height="1.02" fill="#f9d82c"/>
<rect x="22.99" y="26.99" width="2.02" height="1.02" fill="#fec339"/>
<rect x="24.99" y="26.99" width="1.02" height="1.02" fill="#c1c32d"/>
<rect x="25.99" y="26.99" width="4.02" height="1.02" fill="#5ccc76"/>
<rect x="29.99" y="26.99" width="1.02" height="1.02" fill="#01b9c6"/>
<rect x="30.99" y="26.99" width="1.02" height="1.02" fill="#259ce7"/>
<rect x="31.99" y="26.99" width="1.02" height="1.02" fill="#c1c32d"/>
<rect x="32.99" y="26.99" width="1.02" height="1.02" fill="#01b9c6"/>
<rect x="33.99" y="26.99" width="1.02" height="1.02" fill="#259ce7"/>
<rect x="34.99" y="26.99" width="1.01" height="1.02" fill="#416bfe"/>
<rect x="0" y="27.99" width="2.01" height="1.02" fill="#5ccc76"/>
<rect x="1.99" y="27.99" width="1.02" height="1.02" fill="#01b9c6"/>
<rect x="2.99" y="27.99" width="1.02" height="1.02" fill="#c1c32d"/>
<rect x="3.99" y="27.99" width="2.02" height="1.02" fill="#fec339"/>
<rect x="5.99" y="27.99" width="13.02" height="1.02" fill="#f9fb15"/>
<rect x="18.99" y="27.99" width="2.02" height="1.02" fill="#f9d82c"/>
<rect x="20.99" y="27.99" width="1.02" height="1.02" fill="#fec339"/>
<rect x="21.99" y="27.99" width="1.02" height="1.02" fill="#f9d82c"/>
<rect x="22.99" y="27.99" width="2.02" height="1.02" fill="#fec339"/>
<rect x="24.99" y="27.99" width="1.02" height="1.02" fill="#5ccc76"/>
<rect x="25.99" y="27.99" width="1.02" height="1.02" fill="#01b9c6"/>
<rect x="26.99" y="27.99" width="3.02" height="1.02" fill="#5ccc76"/>
<rect x="29.99" y="27.99" width="1.02" height="1.02" fill="#01b9c6"/>
<rect x="30.99" y="27.99" width="1.02" height="1.02" fill="#259ce7"/>
<rect x="31.99" y="27.99" width="2.02" height="1.02" fill="#01b9c6"/>
<rect x="33.99" y="27.99" width="1.02" height="1.02" fill="#259ce7"/>
<rect x="34.99" y="27.99" width="1.01" height="1.02" fill="#416bfe"/>
<rect x="0" y="28.99" width="1.01" height="1.02" fill="#c1c32d"/>
<rect x="0.99" y="28.99" width="1.02" height="1.02" fill="#5ccc76"/>
<rect x="1.99" y="28.99" width="1.02" height="1.02" fill="#01b9c6"/>
<rect x="2.99" y="28.99" width="1.02" height="1.02" fill="#5ccc76"/>
<rect x="3.99" y="28.99" width="2.02" height="1.02" fill="#fec339"/>
<rect x="5.99" y="28.99" width="2.02" height="1.02" fill="#f9fb15"/>
<rect x="7.99" y="28.99" width="2.02" height="1.02" fill="#f9d82c"/>
<rect x="9.99" y="28.99" width="5.02" height="1.02" fill="#f9fb15"/>
<rect x="14.99" y="28.99" width="2.02" height="1.02" fill="#f9d82c"/>
<rect x="16.99" y="28.99" width="2.02" height="1.02" fill="#f9fb15"/>
<rect x="18.99" y="28.99" width="5.02" height="1.02" fill="#fec339"/>
<rect x="23.99" y="28.99" width="1.02" height="1.02" fill="#c1c32d"/>
<rect x="24.99" y="28.99" width="1.02" height="1.02" fill="#fec339"/>
<rect x="25.99" y="28.99" width="1.02" height="1.02" fill="#5ccc76"/>
<rect x="26.99" y="28.99" width="1.02" height="1.02" fill="#01b9c6"/>
<rect x="27.99" y="28.99" width="1.02" height="1.02" fill="#c1c32d"/>
<rect x="28.99" y="28.99" width="1.02" height="1.02" fill="#5ccc76"/>
<rect x="29.99" y="28.99" width="1.02" height="1.02" fill="#01b9c6"/>
<rect x="30.99" y="28.99" width="1.02" height="1.02" fill="#5ccc76"/>
<rect x="31.99" y="28.99" width="1.02" height="1.02" fill="#01b9c6"/>
<rect x="32.99" y="28.99" width="2.02" height="1.02" fill="#259ce7"/>
<rect x="34.99" y="28.99" width="1.01" height="1.02" fill="#416bfe"/>
<rect x="0" y="29.99" width="2.01" height="1.02" fill="#5ccc76"/>
<rect x="1.99" y="29.99" width="2.02" height="1.02" fill="#01b9c6"/>
<rect x="3.99" y="29.99" width="2.02" height="1.02" fill="#c1c32d"/>
<rect x="5.99" y="29.99" width="3.02" height="1.02" fill="#fec339"/>
<rect x="8.99" y="29.99" width="5.02" height="1.02" fill="#f9fb15"/>
<rect x="13.99" y="29.99" width="1.02" height="1.02" fill="#f9d82c"/>
<rect x="14.99" y="29.99" width="4.02" height="1.02" fill="#f9fb15"/>
<rect x="18.99" y="29.99" width="4.02" height="1.02" fill="#fec339"/>
<rect x="22.99" y="29.99" width="1.02" height="1.02" fill="#c1c32d"/>
<rect x="23.99" y="29.99" width="1.02" height="1.02" fill="#fec339"/>
<rect x="24.99" y="29.99" width="2.02" height="1.02" fill="#c1c32d"/>
<rect x="26.99" y="29.99" width="5.02" height="1.02" fill="#5ccc76"/>
<rect x="31.99" y="29.99" width="2.02" height="1.02" fill="#01b9c6"/>
<rect x="33.99" y="29.99" width="2.01" height="1.02" fill="#259ce7"/>
<rect x="0" y="30.99" width="4.01" height="1.02" fill="#01b9c6"/>
<rect x="3.99" y="30.99" width="1.02" height="1.02" fill="#5ccc76"/>
<rect x="4.99" y="30.99" width="2.02" height="1.02" fill="#c1c32d"/>
<rect x="6.99" y="30.99" width="2.02" height="1.02" fill="#fec339"/>
<rect x="8.99" y="30.99" width="9.02" height="1.02" fill="#f9fb15"/>
<rect x="17.99" y="30.99" width="1.02" height="1.02" fill="#f9d82c"/>
<rect x="18.99" y="30.99" width="2.02" height="1.02" fill="#c1c32d"/>
<rect x="20.99" y="30.99" width="1.02" height="1.02" fill="#fec339"/>
<rect x="21.99" y="30.99" width="1.02" height="1.02" fill="#f9d82c"/>
<rect x="22.99" y="30.99" width="2.02" height="1.02" fill="#5ccc76"/>
<rect x="24.99" y="30.99" width="1.02" height="1.02" fill="#c1c32d"/>
<rect x="25.99" y="30.99" width="1.02" height="1.02" fill="#fec339"/>
<rect x="26.99" y="30.99" width="1.02" height="1.02" fill="#c1c32d"/>
<rect x="27.99" y="30.99" width="2.02" height="1.02" fill="#fec339"/>
<rect x="29.99" y="30.99" width="1.02" height="1.02" fill="#c1c32d"/>
<rect x="30.99" y="30.99" width="1.02" height="1.02" fill="#5ccc76"/>
<rect x="31.99" y="30.99" width="1.02" height="1.02" fill="#01b9c6"/>
<rect x="32.99" y="30.99" width="1.02" height="1.02" fill="#fec339"/>
<rect x="33.99" y="30.99" width="1.02" height="1.02" fill="#01b9c6"/>
<rect x="34.99" y="30.99" width="1.01" height="1.02" fill="#259ce7"/>
<rect x="0" y="31.99" width="2.01" height="1.02" fill="#5ccc76"/>
<rect x="1.99" y="31.99" width="1.02" height="1.02" fill="#c1c32d"/>
<rect x="2.99" y="31.99" width="1.02" height="1.02" fill="#01b9c6"/>
<rect x="3.99" y="31.99" width="2.02" height="1.02" fill="#5ccc76"/>
<rect x="5.99" y="31.99" width="2.02" height="1.02" fill="#c1c32d"/>
<rect x="7.99" y="31.99" width="1.02" height="1.02" fill="#f9d82c"/>
<rect x="8.99" y="31.99" width="2.02" height="1.02" fill="#f9fb15"/>
<rect x="10.99" y="31.99" width="1.02" height="1.02" fill="#fec339"/>
<rect x="11.99" y="31.99" width="7.02" height="1.02" fill="#f9fb15"/>
<rect x="18.99" y="31.99" width="2.02" height="1.02" fill="#f9d82c"/>
<rect x="20.99" y="31.99" width="1.02" height="1.02" fill="#fec339"/>
<rect x="21.99" y="31.99" width="1.02" height="1.02" fill="#c1c32d"/>
<rect x="22.99" y="31.99" width="1.02" height="1.02" fill="#5ccc76"/>
<rect x="23.99" y="31.99" width="1.02" height="1.02" fill="#c1c32d"/>
<rect x="24.99" y="31.99" width="1.02" height="1.02" fill="#5ccc76"/>
<rect x="25.99" y="31.99" width="4.02" height="1.02" fill="#fec339"/>
<rect x="29.99" y="31.99" width="1.02" height="1.02" fill="#c1c32d"/>
<rect x="30.99" y="31.99" width="1.02" height="1.02" fill="#5ccc76"/>
<rect x="31.99" y="31.99" width="4.01" height="1.02" fill="#01b9c6"/>
<rect x="0" y="32.99" width="1.01" height="1.02" fill="#01b9c6"/>
<rect x="0.99" y="32.99" width="2.02" height="1.02" fill="#5ccc76"/>
<rect x="2.99" y="32.99" width="1.02" height="1.02" fill="#c1c32d"/>
<rect x="3.99" y="32.99" width="2.02" height="1.02" fill="#5ccc76"/>
<rect x="5.99" y="32.99" width="1.02" height="1.02" fill="#01b9c6"/>
<rect x="6.99" y="32.99" width="1.02" height="1.02" fill="#c1c32d"/>
<rect x="7.99" y="32.99" width="2.02" height="1.02" fill="#f9fb15"/>
<rect x="9.99" y="32.99" width="2.02" height="1.02" fill="#f9d82c"/>
<rect x="11.99" y="32.99" width="9.02" height="1.02" fill="#f9fb15"/>
<rect x="20.99" y="32.99" width="2.02" height="1.02" fill="#fec339"/>
<rect x="22.99" y="32.99" width="1.02" height="1.02" fill="#5ccc76"/>
<rect x="23.99" y="32.99" width="1.02" height="1.02" fill="#c1c32d"/>
<rect x="24.99" y="32.99" width="3.02" height="1.02" fill="#fec339"/>
<rect x="27.99" y="32.99" width="1.02" height="1.02" fill="#f9d82c"/>
<rect x="28.99" y="32.99" width="1.02" height="1.02" fill="#fec339"/>
<rect x="29.99" y="32.99" width="1.02" height="1.02" fill="#5ccc76"/>
<rect x="30.99" y="32.99" width="2.02" height="1.02" fill="#01b9c6"/>
<rect x="32.99" y="32.99" width="1.02" height="1.02" fill="#5ccc76"/>
<rect x="33.99" y="32.99" width="1.02" height="1.02" fill="#259ce7"/>
<rect x="34.99" y="32.99" width="1.01" height="1.02" fill="#416bfe"/>
<rect x="0" y="33.99" width="1.01" height="1.02" fill="#259ce7"/>
<rect x="0.99" y="33.99" width="1.02" height="1.02" fill="#01b9c6"/>
<rect x="1.99" y="33.99" width="1.02" height="1.02" fill="#c1c32d"/>
<rect x="2.99" y="33.99" width="2.02" height="1.02" fill="#5ccc76"/>
<rect x="4.99" y="33.99" width="1.02" height="1.02" fill="#01b9c6"/>
<rect x="5.99" y="33.99" width="1.02" height="1.02" fill="#fec339"/>
<rect x="6.99" y="33.99" width="1.02" height="1.02" fill="#c1c32d"/>
<rect x="7.99" y="33.99" width="1.02" height="1.02" fill="#f9d82c"/>
<rect x="8.99" y="33.99" width="4.02" height="1.02" fill="#f9fb15"/>
<rect x="12.99" y="33.99" width="1.02" height="1.02" fill="#f9d82c"/>
<rect x="13.99" y="33.99" width="7.02" height="1.02" fill="#f9fb15"/>
<rect x="20.99" y="33.99" width="1.02" height="1.02" fill="#f9d82c"/>
<rect x="21.99" y="33.99" width="1.02" height="1.02" fill="#fec339"/>
<rect x="22.99" y="33.99" width="1.02" height="1.02" fill="#01b9c6"/>
<rect x="23.99" y="33.99" width="4.02" height="1.02" fill="#c1c32d"/>
<rect x="27.99" y="33.99" width="1.02" height="1.02" fill="#f9fb15"/>
<rect x="28.99" y="33.99" width="1.02" height="1.02" fill="#f9d82c"/>
<rect x="29.99" y="33.99" width="1.02" height="1.02" fill="#5ccc76"/>
<rect x="30.99" y="33.99" width="2.02" height="1.02" fill="#259ce7"/>
<rect x="32.99" y="33.99" width="2.02" height="1.02" fill="#01b9c6"/>
<rect x="34.99" y="33.99" width="1.01" height="1.02" fill="#259ce7"/>
<rect x="0" y="34.99" width="1.01" height="1.02" fill="#259ce7"/>
<rect x="0.99" y="34.99" width="1.02" height="1.02" fill="#01b9c6"/>
<rect x="1.99" y="34.99" width="1.02" height="1.02" fill="#5ccc76"/>
<rect x="2.99" y="34.99" width="3.02" height="1.02" fill="#01b9c6"/>
<rect x="5.99" y="34.99" width="1.02" height="1.02" fill="#c1c32d"/>
<rect x="6.99" y="34.99" width="2.02" height="1.02" fill="#fec339"/>
<rect x="8.99" y="34.99" width="13.02" height="1.02" fill="#f9fb15"/>
<rect x="21.99" y="34.99" width="3.02" height="1.02" fill="#fec339"/>
<rect x="24.99" y="34.99" width="3.02" height="1.02" fill="#f9fb15"/>
<rect x="27.99" y="34.99" width="2.02" height="1.02" fill="#fec339"/>
<rect x="29.99" y="34.99" width="1.02" height="1.02" fill="#5ccc76"/>
<rect x="30.99" y="34.99" width="5.01" height="1.02" fill="#01b9c6"/>
<rect x="0" y="35.99" width="1.01" height="1.02" fill="#416bfe"/>
<rect x="0.99" y="35.99" width="2.02" height="1.02" fill="#259ce7"/>
<rect x="2.99" y="35.99" width="1.02" height="1.02" fill="#416bfe"/>
<rect x="3.99" y="35.99" width="1.02" height="1.02" fill="#259ce7"/>
<rect x="4.99" y="35.99" width="1.02" height="1.02" fill="#01b9c6"/>
<rect x="5.99" y="35.99" width="1.02" height="1.02" fill="#5ccc76"/>
<rect x="6.99" y="35.99" width="1.02" height="1.02" fill="#f9d82c"/>
<rect x="7.99" y="35.99" width="1.02" height="1.02" fill="#f9fb15"/>
<rect x="8.99" y="35.99" width="2.02" height="1.02" fill="#f9d82c"/>
<rect x="10.99" y="35.99" width="16.02" height="1.02" fill="#f9fb15"/>
<rect x="26.99" y="35.99" width="3.02" height="1.02" fill="#fec339"/>
<rect x="29.99" y="35.99" width="1.02" height="1.02" fill="#c1c32d"/>
<rect x="30.99" y="35.99" width="2.02" height="1.02" fill="#5ccc76"/>
<rect x="32.99" y="35.99" width="1.02" height="1.02" fill="#01b9c6"/>
<rect x="33.99" y="35.99" width="1.02" height="1.02" fill="#5ccc76"/>
<rect x="34.99" y="35.99" width="1.01" height="1.02" fill="#01b9c6"/>
<rect x="0" y="36.99" width="4.01" height="1.02" fill="#416bfe"/>
<rect x="3.99" y="36.99" width="1.02" height="1.02" fill="#259ce7"/>
<rect x="4.99" y="36.99" width="1.02" height="1.02" fill="#01b9c6"/>
<rect x="5.99" y="36.99" width="1.02" height="1.02" fill="#5ccc76"/>
<rect x="6.99" y="36.99" width="1.02" height="1.02" fill="#c1c32d"/>
<rect x="7.99" y="36.99" width="14.02" height="1.02" fill="#f9fb15"/>
<rect x="21.99" y="36.99" width="1.02" height="1.02" fill="#f9d82c"/>
<rect x="22.99" y="36.99" width="4.02" height="1.02" fill="#f9fb15"/>
<rect x="26.99" y="36.99" width="1.02" height="1.02" fill="#fec339"/>
<rect x="27.99" y="36.99" width="1.02" height="1.02" fill="#c1c32d"/>
<rect x="28.99" y="36.99" width="3.02" height="1.02" fill="#fec339"/>
<rect x="31.99" y="36.99" width="1.02" height="1.02" fill="#c1c32d"/>
<rect x="32.99" y="36.99" width="3.01" height="1.02" fill="#5ccc76"/>
<rect x="0" y="37.99" width="1.01" height="1.02" fill="#416bfe"/>
<rect x="0.99" y="37.99" width="4.02" height="1.02" fill="#259ce7"/>
<rect x="4.99" y="37.99" width="1.02" height="1.02" fill="#01b9c6"/>
<rect x="5.99" y="37.99" width="1.02" height="1.02" fill="#c1c32d"/>
<rect x="6.99" y="37.99" width="1.02" height="1.02" fill="#f9d82c"/>
<rect x="7.99" y="37.99" width="20.02" height="1.02" fill="#f9fb15"/>
<rect x="27.99" y="37.99" width="1.02" height="1.02" fill="#f9d82c"/>
<rect x="28.99" y="37.99" width="1.02" height="1.02" fill="#c1c32d"/>
<rect x="29.99" y="37.99" width="1.02" height="1.02" fill="#5ccc76"/>
<rect x="30.99" y="37.99" width="2.02" height="1.02" fill="#fec339"/>
<rect x="32.99" y="37.99" width="1.02" height="1.02" fill="#c1c32d"/>
<rect x="33.99" y="37.99" width="1.02" height="1.02" fill="#01b9c6"/>
<rect x="34.99" y="37.99" width="1.01" height="1.02" fill="#5ccc76"/>
<rect x="0" y="38.99" width="4.01" height="1.02" fill="#259ce7"/>
<rect x="3.99" y="38.99" width="1.02" height="1.02" fill="#01b9c6"/>
<rect x="4.99" y="38.99" width="1.02" height="1.02" fill="#5ccc76"/>
<rect x="5.99" y="38.99" width="1.02" height="1.02" fill="#fec339"/>
<rect x="6.99" y="38.99" width="1.02" height="1.02" fill="#f9d82c"/>
<rect x="7.99" y="38.99" width="19.02" height="1.02" fill="#f9fb15"/>
<rect x="26.99" y="38.99" width="2.02" height="1.02" fill="#fec339"/>
<rect x="28.99" y="38.99" width="1.02" height="1.02" fill="#c1c32d"/>
<rect x="29.99" y="38.99" width="2.02" height="1.02" fill="#fec339"/>
<rect x="31.99" y="38.99" width="1.02" height="1.02" fill="#c1c32d"/>
<rect x="32.99" y="38.99" width="1.02" height="1.02" fill="#01b9c6"/>
<rect x="33.99" y="38.99" width="1.02" height="1.02" fill="#c1c32d"/>
<rect x="34.99" y="38.99" width="1.01" height="1.02" fill="#01b9c6"/>
<rect x="0" y="39.99" width="2.01" height="1.02" fill="#259ce7"/>
<rect x="1.99" y="39.99" width="1.02" height="1.02" fill="#01b9c6"/>
<rect x="2.99" y="39.99" width="1.02" height="1.02" fill="#259ce7"/>
<rect x="3.99" y="39.99" width="1.02" height="1.02" fill="#01b9c6"/>
<rect x="4.99" y="39.99" width="1.02" height="1.02" fill="#c1c32d"/>
<rect x="5.99" y="39.99" width="1.02" height="1.02" fill="#fec339"/>
<rect x="6.99" y="39.99" width="1.02" height="1.02" fill="#f9d82c"/>
<rect x="7.99" y="39.99" width="21.02" height="1.02" fill="#f9fb15"/>
<rect x="28.99" y="39.99" width="1.02" height="1.02" fill="#f9d82c"/>
<rect x="29.99" y="39.99" width="3.02" height="1.02" fill="#fec339"/>
<rect x="32.99" y="39.99" width="1.02" height="1.02" fill="#5ccc76"/>
<rect x="33.99" y="39.99" width="1.02" height="1.02" fill="#fec339"/>
<rect x="34.99" y="39.99" width="1.01" height="1.02" fill="#c1c32d"/>
<rect x="0" y="40.99" width="1.01" height="1.02" fill="#259ce7"/>
<rect x="0.99" y="40.99" width="1.02" height="1.02" fill="#01b9c6"/>
<rect x="1.99" y="40.99" width="1.02" height="1.02" fill="#5ccc76"/>
<rect x="2.99" y="40.99" width="1.02" height="1.02" fill="#01b9c6"/>
<rect x="3.99" y="40.99" width="2.02" height="1.02" fill="#5ccc76"/>
<rect x="5.99" y="40.99" width="2.02" height="1.02" fill="#fec339"/>
<rect x="7.99" y="40.99" width="21.02" height="1.02" fill="#f9fb15"/>
<rect x="28.99" y="40.99" width="1.02" height="1.02" fill="#f9d82c"/>
<rect x="29.99" y="40.99" width="2.02" height="1.02" fill="#c1c32d"/>
<rect x="31.99" y="40.99" width="2.02" height="1.02" fill="#fec339"/>
<rect x="33.99" y="40.99" width="2.01" height="1.02" fill="#01b9c6"/>
<rect x="0" y="41.99" width="2.01" height="1.02" fill="#259ce7"/>
<rect x="1.99" y="41.99" width="1.02" height="1.02" fill="#5ccc76"/>
<rect x="2.99" y="41.99" width="2.02" height="1.02" fill="#01b9c6"/>
<rect x="4.99" y="41.99" width="1.02" height="1.02" fill="#5ccc76"/>
<rect x="5.99" y="41.99" width="1.02" height="1.02" fill="#fec339"/>
<rect x="6.99" y="41.99" width="1.02" height="1.02" fill="#f9d82c"/>
<rect x="7.99" y="41.99" width="22.02" height="1.02" fill="#f9fb15"/>
<rect x="29.99" y="41.99" width="3.02" height="1.02" fill="#f9d82c"/>
<rect x="32.99" y="41.99" width="1.02" height="1.02" fill="#c1c32d"/>
<rect x="33.99" y="41.99" width="2.01" height="1.02" fill="#5ccc76"/>
<rect x="0" y="42.99" width="1.01" height="1.02" fill="#259ce7"/>
<rect x="0.99" y="42.99" width="1.02" height="1.02" fill="#01b9c6"/>
<rect x="1.99" y="42.99" width="1.02" height="1.02" fill="#5ccc76"/>
<rect x="2.99" y="42.99" width="2.02" height="1.02" fill="#01b9c6"/>
<rect x="4.99" y="42.99" width="1.02" height="1.02" fill="#c1c32d"/>
<rect x="5.99" y="42.99" width="1.02" height="1.02" fill="#f9d82c"/>
<rect x="6.99" y="42.99" width="25.02" height="1.02" fill="#f9fb15"/>
<rect x="31.99" y="42.99" width="1.02" height="1.02" fill="#f9d82c"/>
<rect x="32.99" y="42.99" width="1.02" height="1.02" fill="#5ccc76"/>
<rect x="33.99" y="42.99" width="2.01" height="1.02" fill="#c1c32d"/>
<rect x="0" y="43.99" width="1.01" height="1.02" fill="#4747eb"/>
<rect x="0.99" y="43.99" width="1.02" height="1.02" fill="#259ce7"/>
<rect x="1.99" y="43.99" width="1.02" height="1.02" fill="#5ccc76"/>
<rect x="2.99" y="43.99" width="1.02" height="1.02" fill="#01b9c6"/>
<rect x="3.99" y="43.99" width="1.02" height="1.02" fill="#5ccc76"/>
<rect x="4.99" y="43.99" width="2.02" height="1.02" fill="#f9d82c"/>
<rect x="6.99" y="43.99" width="20.02" height="1.02" fill="#f9fb15"/>
<rect x="26.99" y="43.99" width="2.02" height="1.02" fill="#f9d82c"/>
<rect x="28.99" y="43.99" width="2.02" height="1.02" fill="#f9fb15"/>
<rect x="30.99" y="43.99" width="1.02" height="1.02" fill="#f9d82c"/>
<rect x="31.99" y="43.99" width="1.02" height="1.02" fill="#c1c32d"/>
<rect x="32.99" y="43.99" width="1.02" height="1.02" fill="#01b9c6"/>
<rect x="33.99" y="43.99" width="1.02" height="1.02" fill="#5ccc76"/>
<rect x="34.99" y="43.99" width="1.01" height="1.02" fill="#c1c32d"/>
<rect x="0" y="44.99" width="1.01" height="1.02" fill="#3e26a8"/>
<rect x="0.99" y="44.99" width="1.02" height="1.02" fill="#416bfe"/>
<rect x="1.99" y="44.99" width="2.02" height="1.02" fill="#01b9c6"/>
<rect x="3.99" y="44.99" width="1.02" height="1.02" fill="#5ccc76"/>
<rect x="4.99" y="44.99" width="1.02" height="1.02" fill="#c1c32d"/>
<rect x="5.99" y="44.99" width="1.02" height="1.02" fill="#fec339"/>
<rect x="6.99" y="44.99" width="18.02" height="1.02" fill="#f9fb15"/>
<rect x="24.99" y="44.99" width="1.02" height="1.02" fill="#f9d82c"/>
<rect x="25.99" y="44.99" width="3.02" height="1.02" fill="#f9fb15"/>
<rect x="28.99" y="44.99" width="1.02" height="1.02" fill="#f9d82c"/>
<rect x="29.99" y="44.99" width="1.02" height="1.02" fill="#c1c32d"/>
<rect x="30.99" y="44.99" width="1.02" height="1.02" fill="#5ccc76"/>
<rect x="31.99" y="44.99" width="1.02" height="1.02" fill="#c1c32d"/>
<rect x="32.99" y="44.99" width="1.02" height="1.02" fill="#5ccc76"/>
<rect x="33.99" y="44.99" width="1.02" height="1.02" fill="#01b9c6"/>
<rect x="34.99" y="44.99" width="1.01" height="1.02" fill="#5ccc76"/>
<rect x="0" y="45.99" width="1.01" height="1.02" fill="#416bfe"/>
<rect x="0.99" y="45.99" width="1.02" height="1.02" fill="#259ce7"/>
<rect x="1.99" y="45.99" width="2.02" height="1.02" fill="#01b9c6"/>
<rect x="3.99" y="45.99" width="1.02" height="1.02" fill="#5ccc76"/>
<rect x="4.99" y="45.99" width="2.02" height="1.02" fill="#c1c32d"/>
<rect x="6.99" y="45.99" width="1.02" height="1.02" fill="#f9d82c"/>
<rect x="7.99" y="45.99" width="15.02" height="1.02" fill="#f9fb15"/>
<rect x="22.99" y="45.99" width="2.02" height="1.02" fill="#f9d82c"/>
<rect x="24.99" y="45.99" width="1.02" height="1.02" fill="#f9fb15"/>
<rect x="25.99" y="45.99" width="2.02" height="1.02" fill="#f9d82c"/>
<rect x="27.99" y="45.99" width="4.02" height="1.02" fill="#fec339"/>
<rect x="31.99" y="45.99" width="1.02" height="1.02" fill="#c1c32d"/>
<rect x="32.99" y="45.99" width="1.02" height="1.02" fill="#5ccc76"/>
<rect x="33.99" y="45.99" width="1.02" height="1.02" fill="#01b9c6"/>
<rect x="34.99" y="45.99" width="1.01" height="1.02" fill="#5ccc76"/>
<rect x="0" y="46.99" width="1.01" height="1.02" fill="#259ce7"/>
<rect x="0.99" y="46.99" width="2.02" height="1.02" fill="#01b9c6"/>
<rect x="2.99" y="46.99" width="1.02" height="1.02" fill="#5ccc76"/>
<rect x="3.99" y="46.99" width="1.02" height="1.02" fill="#01b9c6"/>
<rect x="4.99" y="46.99" width="1.02" height="1.02" fill="#5ccc76"/>
<rect x="5.99" y="46.99" width="1.02" height="1.02" fill="#c1c32d"/>
<rect x="6.99" y="46.99" width="1.02" height="1.02" fill="#fec339"/>
<rect x="7.99" y="46.99" width="15.02" height="1.02" fill="#f9fb15"/>
<rect x="22.99" y="46.99" width="2.02" height="1.02" fill="#fec339"/>
<rect x="24.99" y="46.99" width="1.02" height="1.02" fill="#f9d82c"/>
<rect x="25.99" y="46.99" width="1.02" height="1.02" fill="#c1c32d"/>
<rect x="26.99" y="46.99" width="5.02" height="1.02" fill="#fec339"/>
<rect x="31.99" y="46.99" width="1.02" height="1.02" fill="#c1c32d"/>
<rect x="32.99" y="46.99" width="1.02" height="1.02" fill="#01b9c6"/>
<rect x="33.99" y="46.99" width="2.01" height="1.02" fill="#259ce7"/>
<rect x="0" y="47.99" width="1.01" height="1.02" fill="#259ce7"/>
<rect x="0.99" y="47.99" width="4.02" height="1.02" fill="#01b9c6"/>
<rect x="4.99" y="47.99" width="1.02" height="1.02" fill="#5ccc76"/>
<rect x="5.99" y="47.99" width="1.02" height="1.02" fill="#c1c32d"/>
<rect x="6.99" y="47.99" width="1.02" height="1.02" fill="#fec339"/>
<rect x="7.99" y="47.99" width="14.02" height="1.02" fill="#f9fb15"/>
<rect x="21.99" y="47.99" width="1.02" height="1.02" fill="#fec339"/>
<rect x="22.99" y="47.99" width="2.02" height="1.02" fill="#c1c32d"/>
<rect x="24.99" y="47.99" width="3.02" height="1.02" fill="#fec339"/>
<rect x="27.99" y="47.99" width="1.02" height="1.02" fill="#c1c32d"/>
<rect x="28.99" y="47.99" width="1.02" height="1.02" fill="#fec339"/>
<rect x="29.99" y="47.99" width="1.02" height="1.02" fill="#f9d82c"/>
<rect x="30.99" y="47.99" width="1.02" height="1.02" fill="#fec339"/>
<rect x="31.99" y="47.99" width="2.02" height="1.02" fill="#5ccc76"/>
<rect x="33.99" y="47.99" width="1.02" height="1.02" fill="#01b9c6"/>
<rect x="34.99" y="47.99" width="1.01" height="1.02" fill="#259ce7"/>
<rect x="0" y="48.99" width="2.01" height="1.02" fill="#259ce7"/>
<rect x="1.99" y="48.99" width="1.02" height="1.02" fill="#01b9c6"/>
<rect x="2.99" y="48.99" width="1.02" height="1.02" fill="#259ce7"/>
<rect x="3.99" y="48.99" width="1.02" height="1.02" fill="#01b9c6"/>
<rect x="4.99" y="48.99" width="1.02" height="1.02" fill="#5ccc76"/>
<rect x="5.99" y="48.99" width="2.02" height="1.02" fill="#fec339"/>
<rect x="7.99" y="48.99" width="14.02" height="1.02" fill="#f9fb15"/>
<rect x="21.99" y="48.99" width="1.02" height="1.02" fill="#fec339"/>
<rect x="22.99" y="48.99" width="2.02" height="1.02" fill="#c1c32d"/>
<rect x="24.99" y="48.99" width="2.02" height="1.02" fill="#fec339"/>
<rect x="26.99" y="48.99" width="2.02" height="1.02" fill="#f9fb15"/>
<rect x="28.99" y="48.99" width="3.02" height="1.02" fill="#f9d82c"/>
<rect x="31.99" y="48.99" width="1.02" height="1.02" fill="#c1c32d"/>
<rect x="32.99" y="48.99" width="1.02" height="1.02" fill="#5ccc76"/>
<rect x="33.99" y="48.99" width="2.01" height="1.02" fill="#c1c32d"/>
<rect x="0" y="49.99" width="1.01" height="1.02" fill="#259ce7"/>
<rect x="0.99" y="49.99" width="3.02" height="1.02" fill="#5ccc76"/>
<rect x="3.99" y="49.99" width="2.02" height="1.02" fill="#01b9c6"/>
<rect x="5.99" y="49.99" width="1.02" height="1.02" fill="#5ccc76"/>
<rect x="6.99" y="49.99" width="1.02" height="1.02" fill="#fec339"/>
<rect x="7.99" y="49.99" width="1.02" height="1.02" fill="#f9d82c"/>
<rect x="8.99" y="49.99" width="13.02" height="1.02" fill="#f9fb15"/>
<rect x="21.99" y="49.99" width="1.02" height="1.02" fill="#fec339"/>
<rect x="22.99" y="49.99" width="1.02" height="1.02" fill="#f9fb15"/>
<rect x="23.99" y="49.99" width="1.02" height="1.02" fill="#fec339"/>
<rect x="24.99" y="49.99" width="1.02" height="1.02" fill="#f9d82c"/>
<rect x="25.99" y="49.99" width="1.02" height="1.02" fill="#c1c32d"/>
<rect x="26.99" y="49.99" width="1.02" height="1.02" fill="#f9d82c"/>
<rect x="27.99" y="49.99" width="2.02" height="1.02" fill="#f9fb15"/>
<rect x="29.99" y="49.99" width="2.02" height="1.02" fill="#f9d82c"/>
<rect x="31.99" y="49.99" width="1.02" height="1.02" fill="#fec339"/>
<rect x="32.99" y="49.99" width="1.02" height="1.02" fill="#5ccc76"/>
<rect x="33.99" y="49.99" width="1.02" height="1.02" fill="#c1c32d"/>
<rect x="34.99" y="49.99" width="1.01" height="1.02" fill="#fec339"/>
<rect x="0" y="50.99" width="1.01" height="1.02" fill="#01b9c6"/>
<rect x="0.99" y="50.99" width="3.02" height="1.02" fill="#5ccc76"/>
<rect x="3.99" y="50.99" width="1.02" height="1.02" fill="#01b9c6"/>
<rect x="4.99" y="50.99" width="1.02" height="1.02" fill="#5ccc76"/>
<rect x="5.99" y="50.99" width="1.02" height="1.02" fill="#c1c32d"/>
<rect x="6.99" y="50.99" width="2.02" height="1.02" fill="#fec339"/>
<rect x="8.99" y="50.99" width="1.02" height="1.02" fill="#f9d82c"/>
<rect x="9.99" y="50.99" width="15.02" height="1.02" fill="#f9fb15"/>
<rect x="24.99" y="50.99" width="1.02" height="1.02" fill="#fec339"/>
<rect x="25.99" y="50.99" width="1.02" height="1.02" fill="#c1c32d"/>
<rect x="26.99" y="50.99" width="1.02" height="1.02" fill="#fec339"/>
<rect x="27.99" y="50.99" width="1.02" height="1.02" fill="#f9d82c"/>
<rect x="28.99" y="50.99" width="1.02" height="1.02" fill="#fec339"/>
<rect x="29.99" y="50.99" width="1.02" height="1.02" fill="#c1c32d"/>
<rect x="30.99" y="50.99" width="3.02" height="1.02" fill="#5ccc76"/>
<rect x="33.99" y="50.99" width="1.02" height="1.02" fill="#c1c32d"/>
<rect x="34.99" y="50.99" width="1.01" height="1.02" fill="#fec339"/>
<rect x="0" y="51.99" width="1.01" height="1.02" fill="#01b9c6"/>
<rect x="0.99" y="51.99" width="2.02" height="1.02" fill="#5ccc76"/>
<rect x="2.99" y="51.99" width="2.02" height="1.02" fill="#01b9c6"/>
<rect x="4.99" y="51.99" width="1.02" height="1.02" fill="#5ccc76"/>
<rect x="5.99" y="51.99" width="2.02" height="1.02" fill="#c1c32d"/>
<rect x="7.99" y="51.99" width="1.02" height="1.02" fill="#fec339"/>
<rect x="8.99" y="51.99" width="3.02" height="1.02" fill="#f9d82c"/>
<rect x="11.99" y="51.99" width="13.02" height="1.02" fill="#f9fb15"/>
<rect x="24.99" y="51.99" width="1.02" height="1.02" fill="#f9d82c"/>
<rect x="25.99" y="51.99" width="2.02" height="1.02" fill="#fec339"/>
<rect x="27.99" y="51.99" width="1.02" height="1.02" fill="#f9fb15"/>
<rect x="28.99" y="51.99" width="1.02" height="1.02" fill="#f9d82c"/>
<rect x="29.99" y="51.99" width="1.02" height="1.02" fill="#c1c32d"/>
<rect x="30.99" y="51.99" width="3.02" height="1.02" fill="#5ccc76"/>
<rect x="33.99" y="51.99" width="1.02" height="1.02" fill="#c1c32d"/>
<rect x="34.99" y="51.99" width="1.01" height="1.02" fill="#fec339"/>
<rect x="0" y="52.99" width="1.01" height="1.02" fill="#259ce7"/>
<rect x="0.99" y="52.99" width="2.02" height="1.02" fill="#01b9c6"/>
<rect x="2.99" y="52.99" width="1.02" height="1.02" fill="#5ccc76"/>
<rect x="3.99" y="52.99" width="2.02" height="1.02" fill="#c1c32d"/>
<rect x="5.99" y="52.99" width="2.02" height="1.02" fill="#5ccc76"/>
<rect x="7.99" y="52.99" width="1.02" height="1.02" fill="#01b9c6"/>
<rect x="8.99" y="52.99" width="1.02" height="1.02" fill="#fec339"/>
<rect x="9.99" y="52.99" width="1.02" height="1.02" fill="#f9d82c"/>
<rect x="10.99" y="52.99" width="1.02" height="1.02" fill="#fec339"/>
<rect x="11.99" y="52.99" width="14.02" height="1.02" fill="#f9fb15"/>
<rect x="25.99" y="52.99" width="1.02" height="1.02" fill="#fec339"/>
<rect x="26.99" y="52.99" width="1.02" height="1.02" fill="#c1c32d"/>
<rect x="27.99" y="52.99" width="1.02" height="1.02" fill="#fec339"/>
<rect x="28.99" y="52.99" width="1.02" height="1.02" fill="#f9d82c"/>
<rect x="29.99" y="52.99" width="1.02" height="1.02" fill="#fec339"/>
<rect x="30.99" y="52.99" width="1.02" height="1.02" fill="#f9d82c"/>
<rect x="31.99" y="52.99" width="1.02" height="1.02" fill="#fec339"/>
<rect x="32.99" y="52.99" width="1.02" height="1.02" fill="#c1c32d"/>
<rect x="33.99" y="52.99" width="1.02" height="1.02" fill="#fec339"/>
<rect x="34.99" y="52.99" width="1.01" height="1.02" fill="#f9d82c"/>
<rect x="0" y="53.99" width="2.01" height="1.02" fill="#259ce7"/>
<rect x="1.99" y="53.99" width="1.02" height="1.02" fill="#416bfe"/>
<rect x="2.99" y="53.99" width="1.02" height="1.02" fill="#5ccc76"/>
<rect x="3.99" y="53.99" width="1.02" height="1.02" fill="#c1c32d"/>
<rect x="4.99" y="53.99" width="1.02" height="1.02" fill="#5ccc76"/>
<rect x="5.99" y="53.99" width="1.02" height="1.02" fill="#c1c32d"/>
<rect x="6.99" y="53.99" width="1.02" height="1.02" fill="#5ccc76"/>
<rect x="7.99" y="53.99" width="1.02" height="1.02" fill="#01b9c6"/>
<rect x="8.99" y="53.99" width="1.02" height="1.02" fill="#5ccc76"/>
<rect x="9.99" y="53.99" width="2.02" height="1.02" fill="#fec339"/>
<rect x="11.99" y="53.99" width="14.02" height="1.02" fill="#f9fb15"/>
<rect x="25.99" y="53.99" width="1.02" height="1.02" fill="#f9d82c"/>
<rect x="26.99" y="53.99" width="2.02" height="1.02" fill="#fec339"/>
<rect x="28.99" y="53.99" width="1.02" height="1.02" fill="#f9d82c"/>
<rect x="29.99" y="53.99" width="1.02" height="1.02" fill="#c1c32d"/>
<rect x="30.99" y="53.99" width="1.02" height="1.02" fill="#f9fb15"/>
<rect x="31.99" y="53.99" width="1.02" height="1.02" fill="#f9d82c"/>
<rect x="32.99" y="53.99" width="1.02" height="1.02" fill="#c1c32d"/>
<rect x="33.99" y="53.99" width="1.02" height="1.02" fill="#fec339"/>
<rect x="34.99" y="53.99" width="1.01" height="1.02" fill="#f9d82c"/>
<rect x="0" y="54.99" width="4.01" height="1.02" fill="#259ce7"/>
<rect x="3.99" y="54.99" width="2.02" height="1.02" fill="#01b9c6"/>
<rect x="5.99" y="54.99" width="1.02" height="1.02" fill="#259ce7"/>
<rect x="6.99" y="54.99" width="2.02" height="1.02" fill="#01b9c6"/>
<rect x="8.99" y="54.99" width="2.02" height="1.02" fill="#259ce7"/>
<rect x="10.99" y="54.99" width="1.02" height="1.02" fill="#5ccc76"/>
<rect x="11.99" y="54.99" width="13.02" height="1.02" fill="#f9fb15"/>
<rect x="24.99" y="54.99" width="1.02" height="1.02" fill="#f9d82c"/>
<rect x="25.99" y="54.99" width="3.02" height="1.02" fill="#f9fb15"/>
<rect x="28.99" y="54.99" width="2.02" height="1.02" fill="#f9d82c"/>
<rect x="30.99" y="54.99" width="1.02" height="1.02" fill="#fec339"/>
<rect x="31.99" y="54.99" width="1.02" height="1.02" fill="#f9d82c"/>
<rect x="32.99" y="54.99" width="1.02" height="1.02" fill="#f9fb15"/>
<rect x="33.99" y="54.99" width="1.02" height="1.02" fill="#f9d82c"/>
<rect x="34.99" y="54.99" width="1.01" height="1.02" fill="#f9fb15"/>
<rect x="0" y="55.99" width="3.01" height="1.02" fill="#259ce7"/>
<rect x="2.99" y="55.99" width="1.02" height="1.02" fill="#01b9c6"/>
<rect x="3.99" y="55.99" width="2.02" height="1.02" fill="#5ccc76"/>
<rect x="5.99" y="55.99" width="1.02" height="1.02" fill="#01b9c6"/>
<rect x="6.99" y="55.99" width="3.02" height="1.02" fill="#259ce7"/>
<rect x="9.99" y="55.99" width="1.02" height="1.02" fill="#01b9c6"/>
<rect x="10.99" y="55.99" width="1.02" height="1.02" fill="#c1c32d"/>
<rect x="11.99" y="55.99" width="14.02" height="1.02" fill="#f9fb15"/>
<rect x="25.99" y="55.99" width="1.02" height="1.02" fill="#f9d82c"/>
<rect x="26.99" y="55.99" width="4.02" height="1.02" fill="#f9fb15"/>
<rect x="30.99" y="55.99" width="1.02" height="1.02" fill="#fec339"/>
<rect x="31.99" y="55.99" width="4.01" height="1.02" fill="#f9fb15"/>
<rect x="0" y="56.99" width="2.01" height="1.02" fill="#416bfe"/>
<rect x="1.99" y="56.99" width="1.02" height="1.02" fill="#259ce7"/>
<rect x="2.99" y="56.99" width="1.02" height="1.02" fill="#01b9c6"/>
<rect x="3.99" y="56.99" width="1.02" height="1.02" fill="#c1c32d"/>
<rect x="4.99" y="56.99" width="2.02" height="1.02" fill="#5ccc76"/>
<rect x="6.99" y="56.99" width="2.02" height="1.02" fill="#01b9c6"/>
<rect x="8.99" y="56.99" width="1.02" height="1.02" fill="#5ccc76"/>
<rect x="9.99" y="56.99" width="2.02" height="1.02" fill="#fec339"/>
<rect x="11.99" y="56.99" width="13.02" height="1.02" fill="#f9fb15"/>
<rect x="24.99" y="56.99" width="1.02" height="1.02" fill="#fec339"/>
<rect x="25.99" y="56.99" width="1.02" height="1.02" fill="#c1c32d"/>
<rect x="26.99" y="56.99" width="1.02" height="1.02" fill="#fec339"/>
<rect x="27.99" y="56.99" width="1.02" height="1.02" fill="#f9d82c"/>
<rect x="28.99" y="56.99" width="2.02" height="1.02" fill="#f9fb15"/>
<rect x="30.99" y="56.99" width="1.02" height="1.02" fill="#f9d82c"/>
<rect x="31.99" y="56.99" width="4.01" height="1.02" fill="#f9fb15"/>
<rect x="0" y="57.99" width="1.01" height="1.02" fill="#4747eb"/>
<rect x="0.99" y="57.99" width="2.02" height="1.02" fill="#416bfe"/>
<rect x="2.99" y="57.99" width="1.02" height="1.02" fill="#259ce7"/>
<rect x="3.99" y="57.99" width="4.02" height="1.02" fill="#01b9c6"/>
<rect x="7.99" y="57.99" width="1.02" height="1.02" fill="#5ccc76"/>
<rect x="8.99" y="57.99" width="1.02" height="1.02" fill="#c1c32d"/>
<rect x="9.99" y="57.99" width="1.02" height="1.02" fill="#fec339"/>
<rect x="10.99" y="57.99" width="1.02" height="1.02" fill="#c1c32d"/>
<rect x="11.99" y="57.99" width="13.02" height="1.02" fill="#f9fb15"/>
<rect x="24.99" y="57.99" width="2.02" height="1.02" fill="#fec339"/>
<rect x="26.99" y="57.99" width="2.02" height="1.02" fill="#c1c32d"/>
<rect x="28.99" y="57.99" width="1.02" height="1.02" fill="#fec339"/>
<rect x="29.99" y="57.99" width="1.02" height="1.02" fill="#f9d82c"/>
<rect x="30.99" y="57.99" width="1.02" height="1.02" fill="#c1c32d"/>
<rect x="31.99" y="57.99" width="1.02" height="1.02" fill="#fec339"/>
<rect x="32.99" y="57.99" width="1.02" height="1.02" fill="#f9d82c"/>
<rect x="33.99" y="57.99" width="2.01" height="1.02" fill="#f9fb15"/>
<rect x="0" y="58.99" width="2.01" height="1.02" fill="#4747eb"/>
<rect x="1.99" y="58.99" width="2.02" height="1.02" fill="#416bfe"/>
<rect x="3.99" y="58.99" width="3.02" height="1.02" fill="#259ce7"/>
<rect x="6.99" y="58.99" width="1.02" height="1.02" fill="#01b9c6"/>
<rect x="7.99" y="58.99" width="2.02" height="1.02" fill="#5ccc76"/>
<rect x="9.99" y="58.99" width="1.02" height="1.02" fill="#c1c32d"/>
<rect x="10.99" y="58.99" width="1.02" height="1.02" fill="#5ccc76"/>
<rect x="11.99" y="58.99" width="1.02" height="1.02" fill="#f9d82c"/>
<rect x="12.99" y="58.99" width="11.02" height="1.02" fill="#f9fb15"/>
<rect x="23.99" y="58.99" width="2.02" height="1.02" fill="#f9d82c"/>
<rect x="25.99" y="58.99" width="1.02" height="1.02" fill="#fec339"/>
<rect x="26.99" y="58.99" width="2.02" height="1.02" fill="#5ccc76"/>
<rect x="28.99" y="58.99" width="2.02" height="1.02" fill="#c1c32d"/>
<rect x="30.99" y="58.99" width="1.02" height="1.02" fill="#01b9c6"/>
<rect x="31.99" y="58.99" width="1.02" height="1.02" fill="#5ccc76"/>
<rect x="32.99" y="58.99" width="1.02" height="1.02" fill="#c1c32d"/>
<rect x="33.99" y="58.99" width="1.02" height="1.02" fill="#fec339"/>
<rect x="34.99" y="58.99" width="1.01" height="1.02" fill="#f9d82c"/>
<rect x="0" y="59.99" width="3.01" height="1.02" fill="#3e26a8"/>
<rect x="2.99" y="59.99" width="1.02" height="1.02" fill="#4747eb"/>
<rect x="3.99" y="59.99" width="1.02" height="1.02" fill="#416bfe"/>
<rect x="4.99" y="59.99" width="2.02" height="1.02" fill="#259ce7"/>
<rect x="6.99" y="59.99" width="3.02" height="1.02" fill="#01b9c6"/>
<rect x="9.99" y="59.99" width="2.02" height="1.02" fill="#5ccc76"/>
<rect x="11.99" y="59.99" width="1.02" height="1.02" fill="#f9d82c"/>
<rect x="12.99" y="59.99" width="11.02" height="1.02" fill="#f9fb15"/>
<rect x="23.99" y="59.99" width="1.02" height="1.02" fill="#f9d82c"/>
<rect x="24.99" y="59.99" width="1.02" height="1.02" fill="#fec339"/>
<rect x="25.99" y="59.99" width="1.02" height="1.02" fill="#c1c32d"/>
<rect x="26.99" y="59.99" width="1.02" height="1.02" fill="#5ccc76"/>
<rect x="27.99" y="59.99" width="1.02" height="1.02" fill="#259ce7"/>
<rect x="28.99" y="59.99" width="1.02" height="1.02" fill="#01b9c6"/>
<rect x="29.99" y="59.99" width="1.02" height="1.02" fill="#5ccc76"/>
<rect x="30.99" y="59.99" width="2.02" height="1.02" fill="#01b9c6"/>
<rect x="32.99" y="59.99" width="1.02" height="1.02" fill="#5ccc76"/>
<rect x="33.99" y="59.99" width="1.02" height="1.02" fill="#01b9c6"/>
<rect x="34.99" y="59.99" width="1.01" height="1.02" fill="#c1c32d"/>
<rect x="0" y="60.99" width="2.01" height="1.02" fill="#3e26a8"/>
<rect x="1.99" y="60.99" width="1.02" height="1.02" fill="#4747eb"/>
<rect x="2.99" y="60.99" width="1.02" height="1.02" fill="#3e26a8"/>
<rect x="3.99" y="60.99" width="1.02" height="1.02" fill="#4747eb"/>
<rect x="4.99" y="60.99" width="1.02" height="1.02" fill="#416bfe"/>
<rect x="5.99" y="60.99" width="1.02" height="1.02" fill="#259ce7"/>
<rect x="6.99" y="60.99" width="2.02" height="1.02" fill="#01b9c6"/>
<rect x="8.99" y="60.99" width="1.02" height="1.02" fill="#5ccc76"/>
<rect x="9.99" y="60.99" width="1.02" height="1.02" fill="#01b9c6"/>
<rect x="10.99" y="60.99" width="1.02" height="1.02" fill="#5ccc76"/>
<rect x="11.99" y="60.99" width="1.02" height="1.02" fill="#c1c32d"/>
<rect x="12.99" y="60.99" width="1.02" height="1.02" fill="#f9d82c"/>
<rect x="13.99" y="60.99" width="8.02" height="1.02" fill="#f9fb15"/>
<rect x="21.99" y="60.99" width="2.02" height="1.02" fill="#f9d82c"/>
<rect x="23.99" y="60.99" width="1.02" height="1.02" fill="#c1c32d"/>
<rect x="24.99" y="60.99" width="2.02" height="1.02" fill="#5ccc76"/>
<rect x="26.99" y="60.99" width="1.02" height="1.02" fill="#01b9c6"/>
<rect x="27.99" y="60.99" width="2.02" height="1.02" fill="#259ce7"/>
<rect x="29.99" y="60.99" width="1.02" height="1.02" fill="#01b9c6"/>
<rect x="30.99" y="60.99" width="1.02" height="1.02" fill="#5ccc76"/>
<rect x="31.99" y="60.99" width="2.02" height="1.02" fill="#01b9c6"/>
<rect x="33.99" y="60.99" width="2.01" height="1.02" fill="#5ccc76"/>
<rect x="0" y="61.99" width="2.01" height="1.02" fill="#4747eb"/>
<rect x="1.99" y="61.99" width="2.02" height="1.02" fill="#3e26a8"/>
<rect x="3.99" y="61.99" width="1.02" height="1.02" fill="#4747eb"/>
<rect x="4.99" y="61.99" width="2.02" height="1.02" fill="#416bfe"/>
<rect x="6.99" y="61.99" width="1.02" height="1.02" fill="#259ce7"/>
<rect x="7.99" y="61.99" width="2.02" height="1.02" fill="#5ccc76"/>
<rect x="9.99" y="61.99" width="1.02" height="1.02" fill="#01b9c6"/>
<rect x="10.99" y="61.99" width="1.02" height="1.02" fill="#5ccc76"/>
<rect x="11.99" y="61.99" width="1.02" height="1.02" fill="#c1c32d"/>
<rect x="12.99" y="61.99" width="2.02" height="1.02" fill="#fec339"/>
<rect x="14.99" y="61.99" width="8.02" height="1.02" fill="#f9fb15"/>
<rect x="22.99" y="61.99" width="1.02" height="1.02" fill="#f9d82c"/>
<rect x="23.99" y="61.99" width="1.02" height="1.02" fill="#c1c32d"/>
<rect x="24.99" y="61.99" width="2.02" height="1.02" fill="#01b9c6"/>
<rect x="26.99" y="61.99" width="1.02" height="1.02" fill="#5ccc76"/>
<rect x="27.99" y="61.99" width="1.02" height="1.02" fill="#259ce7"/>
<rect x="28.99" y="61.99" width="1.02" height="1.02" fill="#416bfe"/>
<rect x="29.99" y="61.99" width="2.02" height="1.02" fill="#259ce7"/>
<rect x="31.99" y="61.99" width="1.02" height="1.02" fill="#fec339"/>
<rect x="32.99" y="61.99" width="1.02" height="1.02" fill="#5ccc76"/>
<rect x="33.99" y="61.99" width="1.02" height="1.02" fill="#fec339"/>
<rect x="34.99" y="61.99" width="1.01" height="1.02" fill="#5ccc76"/>
<rect x="0" y="62.99" width="1.01" height="1.02" fill="#4747eb"/>
<rect x="0.99" y="62.99" width="4.02" height="1.02" fill="#3e26a8"/>
<rect x="4.99" y="62.99" width="2.02" height="1.02" fill="#416bfe"/>
<rect x="6.99" y="62.99" width="1.02" height="1.02" fill="#259ce7"/>
<rect x="7.99" y="62.99" width="2.02" height="1.02" fill="#5ccc76"/>
<rect x="9.99" y="62.99" width="1.02" height="1.02" fill="#01b9c6"/>
<rect x="10.99" y="62.99" width="1.02" height="1.02" fill="#5ccc76"/>
<rect x="11.99" y="62.99" width="1.02" height="1.02" fill="#c1c32d"/>
<rect x="12.99" y="62.99" width="2.02" height="1.02" fill="#fec339"/>
<rect x="14.99" y="62.99" width="1.02" height="1.02" fill="#f9fb15"/>
<rect x="15.99" y="62.99" width="1.02" height="1.02" fill="#f9d82c"/>
<rect x="16.99" y="62.99" width="7.02" height="1.02" fill="#f9fb15"/>
<rect x="23.99" y="62.99" width="1.02" height="1.02" fill="#fec339"/>
<rect x="24.99" y="62.99" width="1.02" height="1.02" fill="#5ccc76"/>
<rect x="25.99" y="62.99" width="3.02" height="1.02" fill="#01b9c6"/>
<rect x="28.99" y="62.99" width="3.02" height="1.02" fill="#259ce7"/>
<rect x="31.99" y="62.99" width="1.02" height="1.02" fill="#01b9c6"/>
<rect x="32.99" y="62.99" width="1.02" height="1.02" fill="#5ccc76"/>
<rect x="33.99" y="62.99" width="2.01" height="1.02" fill="#c1c32d"/>
<rect x="0" y="63.99" width="1.01" height="1.02" fill="#4747eb"/>
<rect x="0.99" y="63.99" width="4.02" height="1.02" fill="#3e26a8"/>
<rect x="4.99" y="63.99" width="1.02" height="1.02" fill="#4747eb"/>
<rect x="5.99" y="63.99" width="1.02" height="1.02" fill="#416bfe"/>
<rect x="6.99" y="63.99" width="1.02" height="1.02" fill="#259ce7"/>
<rect x="7.99" y="63.99" width="3.02" height="1.02" fill="#01b9c6"/>
<rect x="10.99" y="63.99" width="2.02" height="1.02" fill="#5ccc76"/>
<rect x="12.99" y="63.99" width="1.02" height="1.02" fill="#c1c32d"/>
<rect x="13.99" y="63.99" width="1.02" height="1.02" fill="#f9d82c"/>
<rect x="14.99" y="63.99" width="1.02" height="1.02" fill="#f9fb15"/>
<rect x="15.99" y="63.99" width="1.02" height="1.02" fill="#f9d82c"/>
<rect x="16.99" y="63.99" width="4.02" height="1.02" fill="#f9fb15"/>
<rect x="20.99" y="63.99" width="1.02" height="1.02" fill="#f9d82c"/>
<rect x="21.99" y="63.99" width="2.02" height="1.02" fill="#f9fb15"/>
<rect x="23.99" y="63.99" width="1.02" height="1.02" fill="#fec339"/>
<rect x="24.99" y="63.99" width="1.02" height="1.02" fill="#c1c32d"/>
<rect x="25.99" y="63.99" width="2.02" height="1.02" fill="#5ccc76"/>
<rect x="27.99" y="63.99" width="2.02" height="1.02" fill="#01b9c6"/>
<rect x="29.99" y="63.99" width="1.02" height="1.02" fill="#259ce7"/>
<rect x="30.99" y="63.99" width="2.02" height="1.02" fill="#5ccc76"/>
<rect x="32.99" y="63.99" width="3.01" height="1.02" fill="#c1c32d"/>
<rect x="0" y="64.99" width="1.01" height="1.01" fill="#416bfe"/>
<rect x="0.99" y="64.99" width="3.02" height="1.01" fill="#4747eb"/>
<rect x="3.99" y="64.99" width="3.02" height="1.01" fill="#416bfe"/>
<rect x="6.99" y="64.99" width="2.02" height="1.01" fill="#259ce7"/>
<rect x="8.99" y="64.99" width="3.02" height="1.01" fill="#01b9c6"/>
<rect x="11.99" y="64.99" width="1.02" height="1.01" fill="#5ccc76"/>
<rect x="12.99" y="64.99" width="1.02" height="1.01" fill="#c1c32d"/>
<rect x="13.99" y="64.99" width="1.02" height="1.01" fill="#fec339"/>
<rect x="14.99" y="64.99" width="3.02" height="1.01" fill="#f9d82c"/>
<rect x="17.99" y="64.99" width="6.02" height="1.01" fill="#f9fb15"/>
<rect x="23.99" y="64.99" width="2.02" height="1.01" fill="#fec339"/>
<rect x="25.99" y="64.99" width="2.02" height="1.01" fill="#c1c32d"/>
<rect x="27.99" y="64.99" width="2.02" height="1.01" fill="#01b9c6"/>
<rect x="29.99" y="64.99" width="1.02" height="1.01" fill="#5ccc76"/>
<rect x="30.99" y="64.99" width="2.02" height="1.01" fill="#c1c32d"/>
<rect x="32.99" y="64.99" width="3.01" height="1.01" fill="#fec339"/>
</g></defs>
<use href="#hm" transform="translate(32.40 7.00) scale(5.58611 5.56212)"/>
<use href="#hm" transform="translate(272.10 6.80) scale(5.56944 5.55606)"/>
<filter id="rg" x="0" y="0" width="550" height="409" filterUnits="userSpaceOnUse" color-interpolation-filters="sRGB"><feComponentTransfer><feFuncA type="table" tableValues="0 .05 .10 .15 .20 .25 .30 .36 .42 .47 .51 .54 .55 .55 .55 .55 .55 .56 .58 .67 1"/></feComponentTransfer></filter>
<defs><path id="rp" d="M63.12 65.40L202.78 37.59M202.78 65.40L63.12 37.59M63.12 65.40L202.78 44.54M202.78 65.40L63.12 44.54M63.12 65.40L202.78 51.50M202.78 65.40L63.12 51.50M63.12 65.40L202.78 58.45M202.78 65.40L63.12 58.45M63.12 65.40L202.78 65.40M202.78 65.40L63.12 65.40M63.12 65.40L202.78 72.35M202.78 65.40L63.12 72.35M63.12 65.40L202.78 79.31M202.78 65.40L63.12 79.31M63.12 65.40L202.78 86.26M202.78 65.40L63.12 86.26M63.12 65.40L202.78 93.21M202.78 65.40L63.12 93.21M63.12 65.40L202.78 100.17M202.78 65.40L63.12 100.17M63.12 65.40L202.78 107.12M202.78 65.40L63.12 107.12M63.12 65.40L202.78 114.07M202.78 65.40L63.12 114.07M63.12 65.40L202.78 121.02M202.78 65.40L63.12 121.02M63.12 65.40L202.78 127.98M202.78 65.40L63.12 127.98M63.12 65.40L202.78 134.93M202.78 65.40L63.12 134.93M63.12 65.40L202.78 141.88M202.78 65.40L63.12 141.88M63.12 65.40L202.78 148.83M202.78 65.40L63.12 148.83M63.12 65.40L202.78 155.79M202.78 65.40L63.12 155.79M63.12 65.40L202.78 162.74M202.78 65.40L63.12 162.74M63.12 65.40L202.78 169.69M202.78 65.40L63.12 169.69M63.12 65.40L202.78 176.64M202.78 65.40L63.12 176.64M63.12 65.40L202.78 183.60M202.78 65.40L63.12 183.60M63.12 65.40L202.78 190.55M202.78 65.40L63.12 190.55M63.12 65.40L202.78 197.50M202.78 65.40L63.12 197.50M63.12 65.40L202.78 204.46M202.78 65.40L63.12 204.46M63.12 65.40L202.78 211.41M202.78 65.40L63.12 211.41M63.12 65.40L202.78 218.36M202.78 65.40L63.12 218.36M63.12 65.40L202.78 225.31M202.78 65.40L63.12 225.31M63.12 65.40L202.78 232.27M202.78 65.40L63.12 232.27M63.12 93.21L202.78 37.59M202.78 93.21L63.12 37.59M63.12 93.21L202.78 44.54M202.78 93.21L63.12 44.54M63.12 93.21L202.78 51.50M202.78 93.21L63.12 51.50M63.12 93.21L202.78 58.45M202.78 93.21L63.12 58.45M63.12 93.21L202.78 65.40M202.78 93.21L63.12 65.40M63.12 93.21L202.78 72.35M202.78 93.21L63.12 72.35M63.12 93.21L202.78 79.31M202.78 93.21L63.12 79.31M63.12 93.21L202.78 86.26M202.78 93.21L63.12 86.26M63.12 93.21L202.78 93.21M202.78 93.21L63.12 93.21M63.12 93.21L202.78 100.17M202.78 93.21L63.12 100.17M63.12 93.21L202.78 107.12M202.78 93.21L63.12 107.12M63.12 93.21L202.78 114.07M202.78 93.21L63.12 114.07M63.12 93.21L202.78 121.02M202.78 93.21L63.12 121.02M63.12 93.21L202.78 127.98M202.78 93.21L63.12 127.98M63.12 93.21L202.78 134.93M202.78 93.21L63.12 134.93M63.12 93.21L202.78 141.88M202.78 93.21L63.12 141.88M63.12 93.21L202.78 148.83M202.78 93.21L63.12 148.83M63.12 93.21L202.78 155.79M202.78 93.21L63.12 155.79M63.12 93.21L202.78 162.74M202.78 93.21L63.12 162.74M63.12 93.21L202.78 169.69M202.78 93.21L63.12 169.69M63.12 93.21L202.78 176.64M202.78 93.21L63.12 176.64M63.12 93.21L202.78 183.60M202.78 93.21L63.12 183.60M63.12 93.21L202.78 190.55M202.78 93.21L63.12 190.55M63.12 93.21L202.78 197.50M202.78 93.21L63.12 197.50M63.12 93.21L202.78 204.46M202.78 93.21L63.12 204.46M63.12 93.21L202.78 211.41M202.78 93.21L63.12 211.41M63.12 93.21L202.78 218.36M202.78 93.21L63.12 218.36M63.12 93.21L202.78 225.31M202.78 93.21L63.12 225.31M63.12 93.21L202.78 232.27M202.78 93.21L63.12 232.27M63.12 93.21L202.78 239.22M202.78 93.21L63.12 239.22M63.12 93.21L202.78 246.17M202.78 93.21L63.12 246.17M63.12 93.21L202.78 253.12M202.78 93.21L63.12 253.12M63.12 93.21L202.78 260.08M202.78 93.21L63.12 260.08M63.12 121.02L202.78 37.59M202.78 121.02L63.12 37.59M63.12 121.02L202.78 44.54M202.78 121.02L63.12 44.54M63.12 121.02L202.78 51.50M202.78 121.02L63.12 51.50M63.12 121.02L202.78 58.45M202.78 121.02L63.12 58.45M63.12 121.02L202.78 65.40M202.78 121.02L63.12 65.40M63.12 121.02L202.78 72.35M202.78 121.02L63.12 72.35M63.12 121.02L202.78 79.31M202.78 121.02L63.12 79.31M63.12 121.02L202.78 86.26M202.78 121.02L63.12 86.26M63.12 121.02L202.78 93.21M202.78 121.02L63.12 93.21M63.12 121.02L202.78 100.17M202.78 121.02L63.12 100.17M63.12 121.02L202.78 107.12M202.78 121.02L63.12 107.12M63.12 121.02L202.78 114.07M202.78 121.02L63.12 114.07M63.12 121.02L202.78 121.02M202.78 121.02L63.12 121.02M63.12 121.02L202.78 127.98M202.78 121.02L63.12 127.98M63.12 121.02L202.78 134.93M202.78 121.02L63.12 134.93M63.12 121.02L202.78 141.88M202.78 121.02L63.12 141.88M63.12 121.02L202.78 148.83M202.78 121.02L63.12 148.83M63.12 121.02L202.78 155.79M202.78 121.02L63.12 155.79M63.12 121.02L202.78 162.74M202.78 121.02L63.12 162.74M63.12 121.02L202.78 169.69M202.78 121.02L63.12 169.69M63.12 121.02L202.78 176.64M202.78 121.02L63.12 176.64M63.12 121.02L202.78 183.60M202.78 121.02L63.12 183.60M63.12 121.02L202.78 190.55M202.78 121.02L63.12 190.55M63.12 121.02L202.78 197.50M202.78 121.02L63.12 197.50M63.12 121.02L202.78 204.46M202.78 121.02L63.12 204.46M63.12 121.02L202.78 211.41M202.78 121.02L63.12 211.41M63.12 121.02L202.78 218.36M202.78 121.02L63.12 218.36M63.12 121.02L202.78 225.31M202.78 121.02L63.12 225.31M63.12 121.02L202.78 232.27M202.78 121.02L63.12 232.27M63.12 121.02L202.78 239.22M202.78 121.02L63.12 239.22M63.12 121.02L202.78 246.17M202.78 121.02L63.12 246.17M63.12 121.02L202.78 253.12M202.78 121.02L63.12 253.12M63.12 121.02L202.78 260.08M202.78 121.02L63.12 260.08M63.12 121.02L202.78 267.03M202.78 121.02L63.12 267.03M63.12 121.02L202.78 273.98M202.78 121.02L63.12 273.98M63.12 121.02L202.78 280.93M202.78 121.02L63.12 280.93M63.12 121.02L202.78 287.89M202.78 121.02L63.12 287.89M63.12 148.83L202.78 37.59M202.78 148.83L63.12 37.59M63.12 148.83L202.78 44.54M202.78 148.83L63.12 44.54M63.12 148.83L202.78 51.50M202.78 148.83L63.12 51.50M63.12 148.83L202.78 58.45M202.78 148.83L63.12 58.45M63.12 148.83L202.78 65.40M202.78 148.83L63.12 65.40M63.12 148.83L202.78 72.35M202.78 148.83L63.12 72.35M63.12 148.83L202.78 79.31M202.78 148.83L63.12 79.31M63.12 148.83L202.78 86.26M202.78 148.83L63.12 86.26M63.12 148.83L202.78 93.21M202.78 148.83L63.12 93.21M63.12 148.83L202.78 100.17M202.78 148.83L63.12 100.17M63.12 148.83L202.78 107.12M202.78 148.83L63.12 107.12M63.12 148.83L202.78 114.07M202.78 148.83L63.12 114.07M63.12 148.83L202.78 121.02M202.78 148.83L63.12 121.02M63.12 148.83L202.78 127.98M202.78 148.83L63.12 127.98M63.12 148.83L202.78 134.93M202.78 148.83L63.12 134.93M63.12 148.83L202.78 141.88M202.78 148.83L63.12 141.88M63.12 148.83L202.78 148.83M202.78 148.83L63.12 148.83M63.12 148.83L202.78 155.79M202.78 148.83L63.12 155.79M63.12 148.83L202.78 162.74M202.78 148.83L63.12 162.74M63.12 148.83L202.78 169.69M202.78 148.83L63.12 169.69M63.12 148.83L202.78 176.64M202.78 148.83L63.12 176.64M63.12 148.83L202.78 183.60M202.78 148.83L63.12 183.60M63.12 148.83L202.78 190.55M202.78 148.83L63.12 190.55M63.12 148.83L202.78 197.50M202.78 148.83L63.12 197.50M63.12 148.83L202.78 204.46M202.78 148.83L63.12 204.46M63.12 148.83L202.78 211.41M202.78 148.83L63.12 211.41M63.12 148.83L202.78 218.36M202.78 148.83L63.12 218.36M63.12 148.83L202.78 225.31M202.78 148.83L63.12 225.31M63.12 148.83L202.78 232.27M202.78 148.83L63.12 232.27M63.12 148.83L202.78 239.22M202.78 148.83L63.12 239.22M63.12 148.83L202.78 246.17M202.78 148.83L63.12 246.17M63.12 148.83L202.78 253.12M202.78 148.83L63.12 253.12M63.12 148.83L202.78 260.08M202.78 148.83L63.12 260.08M63.12 148.83L202.78 267.03M202.78 148.83L63.12 267.03M63.12 148.83L202.78 273.98M202.78 148.83L63.12 273.98M63.12 148.83L202.78 280.93M202.78 148.83L63.12 280.93M63.12 148.83L202.78 287.89M202.78 148.83L63.12 287.89M63.12 148.83L202.78 294.84M202.78 148.83L63.12 294.84M63.12 148.83L202.78 301.79M202.78 148.83L63.12 301.79M63.12 148.83L202.78 308.75M202.78 148.83L63.12 308.75M63.12 148.83L202.78 315.70M202.78 148.83L63.12 315.70M63.12 176.64L202.78 37.59M202.78 176.64L63.12 37.59M63.12 176.64L202.78 44.54M202.78 176.64L63.12 44.54M63.12 176.64L202.78 51.50M202.78 176.64L63.12 51.50M63.12 176.64L202.78 58.45M202.78 176.64L63.12 58.45M63.12 176.64L202.78 65.40M202.78 176.64L63.12 65.40M63.12 176.64L202.78 72.35M202.78 176.64L63.12 72.35M63.12 176.64L202.78 79.31M202.78 176.64L63.12 79.31M63.12 176.64L202.78 86.26M202.78 176.64L63.12 86.26M63.12 176.64L202.78 93.21M202.78 176.64L63.12 93.21M63.12 176.64L202.78 100.17M202.78 176.64L63.12 100.17M63.12 176.64L202.78 107.12M202.78 176.64L63.12 107.12M63.12 176.64L202.78 114.07M202.78 176.64L63.12 114.07M63.12 176.64L202.78 121.02M202.78 176.64L63.12 121.02M63.12 176.64L202.78 127.98M202.78 176.64L63.12 127.98M63.12 176.64L202.78 134.93M202.78 176.64L63.12 134.93M63.12 176.64L202.78 141.88M202.78 176.64L63.12 141.88M63.12 176.64L202.78 148.83M202.78 176.64L63.12 148.83M63.12 176.64L202.78 155.79M202.78 176.64L63.12 155.79M63.12 176.64L202.78 162.74M202.78 176.64L63.12 162.74M63.12 176.64L202.78 169.69M202.78 176.64L63.12 169.69M63.12 176.64L202.78 176.64M202.78 176.64L63.12 176.64M63.12 176.64L202.78 183.60M202.78 176.64L63.12 183.60M63.12 176.64L202.78 190.55M202.78 176.64L63.12 190.55M63.12 176.64L202.78 197.50M202.78 176.64L63.12 197.50M63.12 176.64L202.78 204.46M202.78 176.64L63.12 204.46M63.12 176.64L202.78 211.41M202.78 176.64L63.12 211.41M63.12 176.64L202.78 218.36M202.78 176.64L63.12 218.36M63.12 176.64L202.78 225.31M202.78 176.64L63.12 225.31M63.12 176.64L202.78 232.27M202.78 176.64L63.12 232.27M63.12 176.64L202.78 239.22M202.78 176.64L63.12 239.22M63.12 176.64L202.78 246.17M202.78 176.64L63.12 246.17M63.12 176.64L202.78 253.12M202.78 176.64L63.12 253.12M63.12 176.64L202.78 260.08M202.78 176.64L63.12 260.08M63.12 176.64L202.78 267.03M202.78 176.64L63.12 267.03M63.12 176.64L202.78 273.98M202.78 176.64L63.12 273.98M63.12 176.64L202.78 280.93M202.78 176.64L63.12 280.93M63.12 176.64L202.78 287.89M202.78 176.64L63.12 287.89M63.12 176.64L202.78 294.84M202.78 176.64L63.12 294.84M63.12 176.64L202.78 301.79M202.78 176.64L63.12 301.79M63.12 176.64L202.78 308.75M202.78 176.64L63.12 308.75M63.12 176.64L202.78 315.70M202.78 176.64L63.12 315.70M63.12 176.64L202.78 322.65M202.78 176.64L63.12 322.65M63.12 176.64L202.78 329.60M202.78 176.64L63.12 329.60M63.12 176.64L202.78 336.56M202.78 176.64L63.12 336.56M63.12 176.64L202.78 343.51M202.78 176.64L63.12 343.51M63.12 204.46L202.78 37.59M202.78 204.46L63.12 37.59M63.12 204.46L202.78 44.54M202.78 204.46L63.12 44.54M63.12 204.46L202.78 51.50M202.78 204.46L63.12 51.50M63.12 204.46L202.78 58.45M202.78 204.46L63.12 58.45M63.12 204.46L202.78 65.40M202.78 204.46L63.12 65.40M63.12 204.46L202.78 72.35M202.78 204.46L63.12 72.35M63.12 204.46L202.78 79.31M202.78 204.46L63.12 79.31M63.12 204.46L202.78 86.26M202.78 204.46L63.12 86.26M63.12 204.46L202.78 93.21M202.78 204.46L63.12 93.21M63.12 204.46L202.78 100.17M202.78 204.46L63.12 100.17M63.12 204.46L202.78 107.12M202.78 204.46L63.12 107.12M63.12 204.46L202.78 114.07M202.78 204.46L63.12 114.07M63.12 204.46L202.78 121.02M202.78 204.46L63.12 121.02M63.12 204.46L202.78 127.98M202.78 204.46L63.12 127.98M63.12 204.46L202.78 134.93M202.78 204.46L63.12 134.93M63.12 204.46L202.78 141.88M202.78 204.46L63.12 141.88M63.12 204.46L202.78 148.83M202.78 204.46L63.12 148.83M63.12 204.46L202.78 155.79M202.78 204.46L63.12 155.79M63.12 204.46L202.78 162.74M202.78 204.46L63.12 162.74M63.12 204.46L202.78 169.69M202.78 204.46L63.12 169.69M63.12 204.46L202.78 176.64M202.78 204.46L63.12 176.64M63.12 204.46L202.78 183.60M202.78 204.46L63.12 183.60M63.12 204.46L202.78 190.55M202.78 204.46L63.12 190.55M63.12 204.46L202.78 197.50M202.78 204.46L63.12 197.50M63.12 204.46L202.78 204.46M202.78 204.46L63.12 204.46M63.12 204.46L202.78 211.41M202.78 204.46L63.12 211.41M63.12 204.46L202.78 218.36M202.78 204.46L63.12 218.36M63.12 204.46L202.78 225.31M202.78 204.46L63.12 225.31M63.12 204.46L202.78 232.27M202.78 204.46L63.12 232.27M63.12 204.46L202.78 239.22M202.78 204.46L63.12 239.22M63.12 204.46L202.78 246.17M202.78 204.46L63.12 246.17M63.12 204.46L202.78 253.12M202.78 204.46L63.12 253.12M63.12 204.46L202.78 260.08M202.78 204.46L63.12 260.08M63.12 204.46L202.78 267.03M202.78 204.46L63.12 267.03M63.12 204.46L202.78 273.98M202.78 204.46L63.12 273.98M63.12 204.46L202.78 280.93M202.78 204.46L63.12 280.93M63.12 204.46L202.78 287.89M202.78 204.46L63.12 287.89M63.12 204.46L202.78 294.84M202.78 204.46L63.12 294.84M63.12 204.46L202.78 301.79M202.78 204.46L63.12 301.79M63.12 204.46L202.78 308.75M202.78 204.46L63.12 308.75M63.12 204.46L202.78 315.70M202.78 204.46L63.12 315.70M63.12 204.46L202.78 322.65M202.78 204.46L63.12 322.65M63.12 204.46L202.78 329.60M202.78 204.46L63.12 329.60M63.12 204.46L202.78 336.56M202.78 204.46L63.12 336.56M63.12 204.46L202.78 343.51M202.78 204.46L63.12 343.51M63.12 232.27L202.78 65.40M202.78 232.27L63.12 65.40M63.12 232.27L202.78 72.35M202.78 232.27L63.12 72.35M63.12 232.27L202.78 79.31M202.78 232.27L63.12 79.31M63.12 232.27L202.78 86.26M202.78 232.27L63.12 86.26M63.12 232.27L202.78 93.21M202.78 232.27L63.12 93.21M63.12 232.27L202.78 100.17M202.78 232.27L63.12 100.17M63.12 232.27L202.78 107.12M202.78 232.27L63.12 107.12M63.12 232.27L202.78 114.07M202.78 232.27L63.12 114.07M63.12 232.27L202.78 121.02M202.78 232.27L63.12 121.02M63.12 232.27L202.78 127.98M202.78 232.27L63.12 127.98M63.12 232.27L202.78 134.93M202.78 232.27L63.12 134.93M63.12 232.27L202.78 141.88M202.78 232.27L63.12 141.88M63.12 232.27L202.78 148.83M202.78 232.27L63.12 148.83M63.12 232.27L202.78 155.79M202.78 232.27L63.12 155.79M63.12 232.27L202.78 162.74M202.78 232.27L63.12 162.74M63.12 232.27L202.78 169.69M202.78 232.27L63.12 169.69M63.12 232.27L202.78 176.64M202.78 232.27L63.12 176.64M63.12 232.27L202.78 183.60M202.78 232.27L63.12 183.60M63.12 232.27L202.78 190.55M202.78 232.27L63.12 190.55M63.12 232.27L202.78 197.50M202.78 232.27L63.12 197.50M63.12 232.27L202.78 204.46M202.78 232.27L63.12 204.46M63.12 232.27L202.78 211.41M202.78 232.27L63.12 211.41M63.12 232.27L202.78 218.36M202.78 232.27L63.12 218.36M63.12 232.27L202.78 225.31M202.78 232.27L63.12 225.31M63.12 232.27L202.78 232.27M202.78 232.27L63.12 232.27M63.12 232.27L202.78 239.22M202.78 232.27L63.12 239.22M63.12 232.27L202.78 246.17M202.78 232.27L63.12 246.17M63.12 232.27L202.78 253.12M202.78 232.27L63.12 253.12M63.12 232.27L202.78 260.08M202.78 232.27L63.12 260.08M63.12 232.27L202.78 267.03M202.78 232.27L63.12 267.03M63.12 232.27L202.78 273.98M202.78 232.27L63.12 273.98M63.12 232.27L202.78 280.93M202.78 232.27L63.12 280.93M63.12 232.27L202.78 287.89M202.78 232.27L63.12 287.89M63.12 232.27L202.78 294.84M202.78 232.27L63.12 294.84M63.12 232.27L202.78 301.79M202.78 232.27L63.12 301.79M63.12 232.27L202.78 308.75M202.78 232.27L63.12 308.75M63.12 232.27L202.78 315.70M202.78 232.27L63.12 315.70M63.12 232.27L202.78 322.65M202.78 232.27L63.12 322.65M63.12 232.27L202.78 329.60M202.78 232.27L63.12 329.60M63.12 232.27L202.78 336.56M202.78 232.27L63.12 336.56M63.12 232.27L202.78 343.51M202.78 232.27L63.12 343.51M63.12 260.08L202.78 93.21M202.78 260.08L63.12 93.21M63.12 260.08L202.78 100.17M202.78 260.08L63.12 100.17M63.12 260.08L202.78 107.12M202.78 260.08L63.12 107.12M63.12 260.08L202.78 114.07M202.78 260.08L63.12 114.07M63.12 260.08L202.78 121.02M202.78 260.08L63.12 121.02M63.12 260.08L202.78 127.98M202.78 260.08L63.12 127.98M63.12 260.08L202.78 134.93M202.78 260.08L63.12 134.93M63.12 260.08L202.78 141.88M202.78 260.08L63.12 141.88M63.12 260.08L202.78 148.83M202.78 260.08L63.12 148.83M63.12 260.08L202.78 155.79M202.78 260.08L63.12 155.79M63.12 260.08L202.78 162.74M202.78 260.08L63.12 162.74M63.12 260.08L202.78 169.69M202.78 260.08L63.12 169.69M63.12 260.08L202.78 176.64M202.78 260.08L63.12 176.64M63.12 260.08L202.78 183.60M202.78 260.08L63.12 183.60M63.12 260.08L202.78 190.55M202.78 260.08L63.12 190.55M63.12 260.08L202.78 197.50M202.78 260.08L63.12 197.50M63.12 260.08L202.78 204.46M202.78 260.08L63.12 204.46M63.12 260.08L202.78 211.41M202.78 260.08L63.12 211.41M63.12 260.08L202.78 218.36M202.78 260.08L63.12 218.36M63.12 260.08L202.78 225.31M202.78 260.08L63.12 225.31M63.12 260.08L202.78 232.27M202.78 260.08L63.12 232.27M63.12 260.08L202.78 239.22M202.78 260.08L63.12 239.22M63.12 260.08L202.78 246.17M202.78 260.08L63.12 246.17M63.12 260.08L202.78 253.12M202.78 260.08L63.12 253.12M63.12 260.08L202.78 260.08M202.78 260.08L63.12 260.08M63.12 260.08L202.78 267.03M202.78 260.08L63.12 267.03M63.12 260.08L202.78 273.98M202.78 260.08L63.12 273.98M63.12 260.08L202.78 280.93M202.78 260.08L63.12 280.93M63.12 260.08L202.78 287.89M202.78 260.08L63.12 287.89M63.12 260.08L202.78 294.84M202.78 260.08L63.12 294.84M63.12 260.08L202.78 301.79M202.78 260.08L63.12 301.79M63.12 260.08L202.78 308.75M202.78 260.08L63.12 308.75M63.12 260.08L202.78 315.70M202.78 260.08L63.12 315.70M63.12 260.08L202.78 322.65M202.78 260.08L63.12 322.65M63.12 260.08L202.78 329.60M202.78 260.08L63.12 329.60M63.12 260.08L202.78 336.56M202.78 260.08L63.12 336.56M63.12 260.08L202.78 343.51M202.78 260.08L63.12 343.51M63.12 287.89L202.78 121.02M202.78 287.89L63.12 121.02M63.12 287.89L202.78 127.98M202.78 287.89L63.12 127.98M63.12 287.89L202.78 134.93M202.78 287.89L63.12 134.93M63.12 287.89L202.78 141.88M202.78 287.89L63.12 141.88M63.12 287.89L202.78 148.83M202.78 287.89L63.12 148.83M63.12 287.89L202.78 155.79M202.78 287.89L63.12 155.79M63.12 287.89L202.78 162.74M202.78 287.89L63.12 162.74M63.12 287.89L202.78 169.69M202.78 287.89L63.12 169.69M63.12 287.89L202.78 176.64M202.78 287.89L63.12 176.64M63.12 287.89L202.78 183.60M202.78 287.89L63.12 183.60M63.12 287.89L202.78 190.55M202.78 287.89L63.12 190.55M63.12 287.89L202.78 197.50M202.78 287.89L63.12 197.50M63.12 287.89L202.78 204.46M202.78 287.89L63.12 204.46M63.12 287.89L202.78 211.41M202.78 287.89L63.12 211.41M63.12 287.89L202.78 218.36M202.78 287.89L63.12 218.36M63.12 287.89L202.78 225.31M202.78 287.89L63.12 225.31M63.12 287.89L202.78 232.27M202.78 287.89L63.12 232.27M63.12 287.89L202.78 239.22M202.78 287.89L63.12 239.22M63.12 287.89L202.78 246.17M202.78 287.89L63.12 246.17M63.12 287.89L202.78 253.12M202.78 287.89L63.12 253.12M63.12 287.89L202.78 260.08M202.78 287.89L63.12 260.08M63.12 287.89L202.78 267.03M202.78 287.89L63.12 267.03M63.12 287.89L202.78 273.98M202.78 287.89L63.12 273.98M63.12 287.89L202.78 280.93M202.78 287.89L63.12 280.93M63.12 287.89L202.78 287.89M202.78 287.89L63.12 287.89M63.12 287.89L202.78 294.84M202.78 287.89L63.12 294.84M63.12 287.89L202.78 301.79M202.78 287.89L63.12 301.79M63.12 287.89L202.78 308.75M202.78 287.89L63.12 308.75M63.12 287.89L202.78 315.70M202.78 287.89L63.12 315.70M63.12 287.89L202.78 322.65M202.78 287.89L63.12 322.65M63.12 287.89L202.78 329.60M202.78 287.89L63.12 329.60M63.12 287.89L202.78 336.56M202.78 287.89L63.12 336.56M63.12 287.89L202.78 343.51M202.78 287.89L63.12 343.51M63.12 315.70L202.78 148.83M202.78 315.70L63.12 148.83M63.12 315.70L202.78 155.79M202.78 315.70L63.12 155.79M63.12 315.70L202.78 162.74M202.78 315.70L63.12 162.74M63.12 315.70L202.78 169.69M202.78 315.70L63.12 169.69M63.12 315.70L202.78 176.64M202.78 315.70L63.12 176.64M63.12 315.70L202.78 183.60M202.78 315.70L63.12 183.60M63.12 315.70L202.78 190.55M202.78 315.70L63.12 190.55M63.12 315.70L202.78 197.50M202.78 315.70L63.12 197.50M63.12 315.70L202.78 204.46M202.78 315.70L63.12 204.46M63.12 315.70L202.78 211.41M202.78 315.70L63.12 211.41M63.12 315.70L202.78 218.36M202.78 315.70L63.12 218.36M63.12 315.70L202.78 225.31M202.78 315.70L63.12 225.31M63.12 315.70L202.78 232.27M202.78 315.70L63.12 232.27M63.12 315.70L202.78 239.22M202.78 315.70L63.12 239.22M63.12 315.70L202.78 246.17M202.78 315.70L63.12 246.17M63.12 315.70L202.78 253.12M202.78 315.70L63.12 253.12M63.12 315.70L202.78 260.08M202.78 315.70L63.12 260.08M63.12 315.70L202.78 267.03M202.78 315.70L63.12 267.03M63.12 315.70L202.78 273.98M202.78 315.70L63.12 273.98M63.12 315.70L202.78 280.93M202.78 315.70L63.12 280.93M63.12 315.70L202.78 287.89M202.78 315.70L63.12 287.89M63.12 315.70L202.78 294.84M202.78 315.70L63.12 294.84M63.12 315.70L202.78 301.79M202.78 315.70L63.12 301.79M63.12 315.70L202.78 308.75M202.78 315.70L63.12 308.75M63.12 315.70L202.78 315.70M202.78 315.70L63.12 315.70M63.12 315.70L202.78 322.65M202.78 315.70L63.12 322.65M63.12 315.70L202.78 329.60M202.78 315.70L63.12 329.60M63.12 315.70L202.78 336.56M202.78 315.70L63.12 336.56M63.12 315.70L202.78 343.51M202.78 315.70L63.12 343.51M63.12 343.51L202.78 176.64M202.78 343.51L63.12 176.64M63.12 343.51L202.78 183.60M202.78 343.51L63.12 183.60M63.12 343.51L202.78 190.55M202.78 343.51L63.12 190.55M63.12 343.51L202.78 197.50M202.78 343.51L63.12 197.50M63.12 343.51L202.78 204.46M202.78 343.51L63.12 204.46M63.12 343.51L202.78 211.41M202.78 343.51L63.12 211.41M63.12 343.51L202.78 218.36M202.78 343.51L63.12 218.36M63.12 343.51L202.78 225.31M202.78 343.51L63.12 225.31M63.12 343.51L202.78 232.27M202.78 343.51L63.12 232.27M63.12 343.51L202.78 239.22M202.78 343.51L63.12 239.22M63.12 343.51L202.78 246.17M202.78 343.51L63.12 246.17M63.12 343.51L202.78 253.12M202.78 343.51L63.12 253.12M63.12 343.51L202.78 260.08M202.78 343.51L63.12 260.08M63.12 343.51L202.78 267.03M202.78 343.51L63.12 267.03M63.12 343.51L202.78 273.98M202.78 343.51L63.12 273.98M63.12 343.51L202.78 280.93M202.78 343.51L63.12 280.93M63.12 343.51L202.78 287.89M202.78 343.51L63.12 287.89M63.12 343.51L202.78 294.84M202.78 343.51L63.12 294.84M63.12 343.51L202.78 301.79M202.78 343.51L63.12 301.79M63.12 343.51L202.78 308.75M202.78 343.51L63.12 308.75M63.12 343.51L202.78 315.70M202.78 343.51L63.12 315.70M63.12 343.51L202.78 322.65M202.78 343.51L63.12 322.65M63.12 343.51L202.78 329.60M202.78 343.51L63.12 329.60M63.12 343.51L202.78 336.56M202.78 343.51L63.12 336.56M63.12 343.51L202.78 343.51M202.78 343.51L63.12 343.51"/></defs>
<g filter="url(#rg)"><use href="#rp" stroke="#000" stroke-width="0.6" fill="none"/></g>
<radialGradient id="fg" gradientUnits="userSpaceOnUse" cx="0" cy="0" r="24"><stop offset="0" stop-color="#000" stop-opacity="1"/><stop offset="0.4" stop-color="#000" stop-opacity="1"/><stop offset="0.75" stop-color="#000" stop-opacity="0.5"/><stop offset="1" stop-color="#000" stop-opacity="0"/></radialGradient>
<polygon transform="translate(63.12 65.40)" points="0,0 24.00,-4.80 24.00,28.80" fill="url(#fg)"/>
<polygon transform="translate(202.78 65.40) scale(-1 1)" points="0,0 24.00,-4.80 24.00,28.80" fill="url(#fg)"/>
<polygon transform="translate(63.12 93.21)" points="0,0 24.00,-9.60 24.00,28.80" fill="url(#fg)"/>
<polygon transform="translate(202.78 93.21) scale(-1 1)" points="0,0 24.00,-9.60 24.00,28.80" fill="url(#fg)"/>
<polygon transform="translate(63.12 121.02)" points="0,0 24.00,-14.40 24.00,28.80" fill="url(#fg)"/>
<polygon transform="translate(202.78 121.02) scale(-1 1)" points="0,0 24.00,-14.40 24.00,28.80" fill="url(#fg)"/>
<polygon transform="translate(63.12 148.83)" points="0,0 24.00,-19.20 24.00,28.80" fill="url(#fg)"/>
<polygon transform="translate(202.78 148.83) scale(-1 1)" points="0,0 24.00,-19.20 24.00,28.80" fill="url(#fg)"/>
<polygon transform="translate(63.12 176.64)" points="0,0 24.00,-24.00 24.00,28.80" fill="url(#fg)"/>
<polygon transform="translate(202.78 176.64) scale(-1 1)" points="0,0 24.00,-24.00 24.00,28.80" fill="url(#fg)"/>
<polygon transform="translate(63.12 204.46)" points="0,0 24.00,-28.80 24.00,24.00" fill="url(#fg)"/>
<polygon transform="translate(202.78 204.46) scale(-1 1)" points="0,0 24.00,-28.80 24.00,24.00" fill="url(#fg)"/>
<polygon transform="translate(63.12 232.27)" points="0,0 24.00,-28.80 24.00,19.20" fill="url(#fg)"/>
<polygon transform="translate(202.78 232.27) scale(-1 1)" points="0,0 24.00,-28.80 24.00,19.20" fill="url(#fg)"/>
<polygon transform="translate(63.12 260.08)" points="0,0 24.00,-28.80 24.00,14.40" fill="url(#fg)"/>
<polygon transform="translate(202.78 260.08) scale(-1 1)" points="0,0 24.00,-28.80 24.00,14.40" fill="url(#fg)"/>
<polygon transform="translate(63.12 287.89)" points="0,0 24.00,-28.80 24.00,9.60" fill="url(#fg)"/>
<polygon transform="translate(202.78 287.89) scale(-1 1)" points="0,0 24.00,-28.80 24.00,9.60" fill="url(#fg)"/>
<polygon transform="translate(63.12 315.70)" points="0,0 24.00,-28.80 24.00,4.80" fill="url(#fg)"/>
<polygon transform="translate(202.78 315.70) scale(-1 1)" points="0,0 24.00,-28.80 24.00,4.80" fill="url(#fg)"/>
<polygon transform="translate(63.12 343.51)" points="0,0 24.00,-28.80 24.00,0.00" fill="url(#fg)"/>
<polygon transform="translate(202.78 343.51) scale(-1 1)" points="0,0 24.00,-28.80 24.00,0.00" fill="url(#fg)"/>
<circle cx="63.12" cy="37.59" r="1.9" fill="#000"/>
<circle cx="202.78" cy="37.59" r="1.9" fill="#000"/>
<circle cx="63.12" cy="44.54" r="1.9" fill="#000"/>
<circle cx="202.78" cy="44.54" r="1.9" fill="#000"/>
<circle cx="63.12" cy="51.50" r="1.9" fill="#000"/>
<circle cx="202.78" cy="51.50" r="1.9" fill="#000"/>
<circle cx="63.12" cy="58.45" r="1.9" fill="#000"/>
<circle cx="202.78" cy="58.45" r="1.9" fill="#000"/>
<circle cx="63.12" cy="65.40" r="1.9" fill="#000"/>
<circle cx="202.78" cy="65.40" r="1.9" fill="#000"/>
<circle cx="63.12" cy="72.35" r="1.9" fill="#000"/>
<circle cx="202.78" cy="72.35" r="1.9" fill="#000"/>
<circle cx="63.12" cy="79.31" r="1.9" fill="#000"/>
<circle cx="202.78" cy="79.31" r="1.9" fill="#000"/>
<circle cx="63.12" cy="86.26" r="1.9" fill="#000"/>
<circle cx="202.78" cy="86.26" r="1.9" fill="#000"/>
<circle cx="63.12" cy="93.21" r="1.9" fill="#000"/>
<circle cx="202.78" cy="93.21" r="1.9" fill="#000"/>
<circle cx="63.12" cy="100.17" r="1.9" fill="#000"/>
<circle cx="202.78" cy="100.17" r="1.9" fill="#000"/>
<circle cx="63.12" cy="107.12" r="1.9" fill="#000"/>
<circle cx="202.78" cy="107.12" r="1.9" fill="#000"/>
<circle cx="63.12" cy="114.07" r="1.9" fill="#000"/>
<circle cx="202.78" cy="114.07" r="1.9" fill="#000"/>
<circle cx="63.12" cy="121.02" r="1.9" fill="#000"/>
<circle cx="202.78" cy="121.02" r="1.9" fill="#000"/>
<circle cx="63.12" cy="127.98" r="1.9" fill="#000"/>
<circle cx="202.78" cy="127.98" r="1.9" fill="#000"/>
<circle cx="63.12" cy="134.93" r="1.9" fill="#000"/>
<circle cx="202.78" cy="134.93" r="1.9" fill="#000"/>
<circle cx="63.12" cy="141.88" r="1.9" fill="#000"/>
<circle cx="202.78" cy="141.88" r="1.9" fill="#000"/>
<circle cx="63.12" cy="148.83" r="1.9" fill="#000"/>
<circle cx="202.78" cy="148.83" r="1.9" fill="#000"/>
<circle cx="63.12" cy="155.79" r="1.9" fill="#000"/>
<circle cx="202.78" cy="155.79" r="1.9" fill="#000"/>
<circle cx="63.12" cy="162.74" r="1.9" fill="#000"/>
<circle cx="202.78" cy="162.74" r="1.9" fill="#000"/>
<circle cx="63.12" cy="169.69" r="1.9" fill="#000"/>
<circle cx="202.78" cy="169.69" r="1.9" fill="#000"/>
<circle cx="63.12" cy="176.64" r="1.9" fill="#000"/>
<circle cx="202.78" cy="176.64" r="1.9" fill="#000"/>
<circle cx="63.12" cy="183.60" r="1.9" fill="#000"/>
<circle cx="202.78" cy="183.60" r="1.9" fill="#000"/>
<circle cx="63.12" cy="190.55" r="1.9" fill="#000"/>
<circle cx="202.78" cy="190.55" r="1.9" fill="#000"/>
<circle cx="63.12" cy="197.50" r="1.9" fill="#000"/>
<circle cx="202.78" cy="197.50" r="1.9" fill="#000"/>
<circle cx="63.12" cy="204.46" r="1.9" fill="#000"/>
<circle cx="202.78" cy="204.46" r="1.9" fill="#000"/>
<circle cx="63.12" cy="211.41" r="1.9" fill="#000"/>
<circle cx="202.78" cy="211.41" r="1.9" fill="#000"/>
<circle cx="63.12" cy="218.36" r="1.9" fill="#000"/>
<circle cx="202.78" cy="218.36" r="1.9" fill="#000"/>
<circle cx="63.12" cy="225.31" r="1.9" fill="#000"/>
<circle cx="202.78" cy="225.31" r="1.9" fill="#000"/>
<circle cx="63.12" cy="232.27" r="1.9" fill="#000"/>
<circle cx="202.78" cy="232.27" r="1.9" fill="#000"/>
<circle cx="63.12" cy="239.22" r="1.9" fill="#000"/>
<circle cx="202.78" cy="239.22" r="1.9" fill="#000"/>
<circle cx="63.12" cy="246.17" r="1.9" fill="#000"/>
<circle cx="202.78" cy="246.17" r="1.9" fill="#000"/>
<circle cx="63.12" cy="253.12" r="1.9" fill="#000"/>
<circle cx="202.78" cy="253.12" r="1.9" fill="#000"/>
<circle cx="63.12" cy="260.08" r="1.9" fill="#000"/>
<circle cx="202.78" cy="260.08" r="1.9" fill="#000"/>
<circle cx="63.12" cy="267.03" r="1.9" fill="#000"/>
<circle cx="202.78" cy="267.03" r="1.9" fill="#000"/>
<circle cx="63.12" cy="273.98" r="1.9" fill="#000"/>
<circle cx="202.78" cy="273.98" r="1.9" fill="#000"/>
<circle cx="63.12" cy="280.93" r="1.9" fill="#000"/>
<circle cx="202.78" cy="280.93" r="1.9" fill="#000"/>
<circle cx="63.12" cy="287.89" r="1.9" fill="#000"/>
<circle cx="202.78" cy="287.89" r="1.9" fill="#000"/>
<circle cx="63.12" cy="294.84" r="1.9" fill="#000"/>
<circle cx="202.78" cy="294.84" r="1.9" fill="#000"/>
<circle cx="63.12" cy="301.79" r="1.9" fill="#000"/>
<circle cx="202.78" cy="301.79" r="1.9" fill="#000"/>
<circle cx="63.12" cy="308.75" r="1.9" fill="#000"/>
<circle cx="202.78" cy="308.75" r="1.9" fill="#000"/>
<circle cx="63.12" cy="315.70" r="1.9" fill="#000"/>
<circle cx="202.78" cy="315.70" r="1.9" fill="#000"/>
<circle cx="63.12" cy="322.65" r="1.9" fill="#000"/>
<circle cx="202.78" cy="322.65" r="1.9" fill="#000"/>
<circle cx="63.12" cy="329.60" r="1.9" fill="#000"/>
<circle cx="202.78" cy="329.60" r="1.9" fill="#000"/>
<circle cx="63.12" cy="336.56" r="1.9" fill="#000"/>
<circle cx="202.78" cy="336.56" r="1.9" fill="#000"/>
<circle cx="63.12" cy="343.51" r="1.9" fill="#000"/>
<circle cx="202.78" cy="343.51" r="1.9" fill="#000"/>
<circle cx="63.12" cy="65.40" r="3.3" fill="#f0057f"/>
<circle cx="202.78" cy="65.40" r="3.3" fill="#f0057f"/>
<circle cx="63.12" cy="93.21" r="3.3" fill="#f0057f"/>
<circle cx="202.78" cy="93.21" r="3.3" fill="#f0057f"/>
<circle cx="63.12" cy="121.02" r="3.3" fill="#f0057f"/>
<circle cx="202.78" cy="121.02" r="3.3" fill="#f0057f"/>
<circle cx="63.12" cy="148.83" r="3.3" fill="#f0057f"/>
<circle cx="202.78" cy="148.83" r="3.3" fill="#f0057f"/>
<circle cx="63.12" cy="176.64" r="3.3" fill="#f0057f"/>
<circle cx="202.78" cy="176.64" r="3.3" fill="#f0057f"/>
<circle cx="63.12" cy="204.46" r="3.3" fill="#f0057f"/>
<circle cx="202.78" cy="204.46" r="3.3" fill="#f0057f"/>
<circle cx="63.12" cy="232.27" r="3.3" fill="#f0057f"/>
<circle cx="202.78" cy="232.27" r="3.3" fill="#f0057f"/>
<circle cx="63.12" cy="260.08" r="3.3" fill="#f0057f"/>
<circle cx="202.78" cy="260.08" r="3.3" fill="#f0057f"/>
<circle cx="63.12" cy="287.89" r="3.3" fill="#f0057f"/>
<circle cx="202.78" cy="287.89" r="3.3" fill="#f0057f"/>
<circle cx="63.12" cy="315.70" r="3.3" fill="#f0057f"/>
<circle cx="202.78" cy="315.70" r="3.3" fill="#f0057f"/>
<circle cx="63.12" cy="343.51" r="3.3" fill="#f0057f"/>
<circle cx="202.78" cy="343.51" r="3.3" fill="#f0057f"/>
<rect x="32.40" y="7.00" width="201.10" height="367.10" fill="none" stroke="#444" stroke-width="0.55"/>
<path d="M35.19 374.10v-3.00M35.19 7.00v3.00" stroke="#222" stroke-width="0.6"/>
<text transform="translate(35.19 389.20) scale(0.93 1)" text-anchor="middle" class="tk">0</text>
<path d="M91.05 374.10v-3.00M91.05 7.00v3.00" stroke="#222" stroke-width="0.6"/>
<text transform="translate(91.05 389.20) scale(0.93 1)" text-anchor="middle" class="tk">2</text>
<path d="M146.92 374.10v-3.00M146.92 7.00v3.00" stroke="#222" stroke-width="0.6"/>
<text transform="translate(146.92 389.20) scale(0.93 1)" text-anchor="middle" class="tk">4</text>
<path d="M202.78 374.10v-3.00M202.78 7.00v3.00" stroke="#222" stroke-width="0.6"/>
<text transform="translate(202.78 389.20) scale(0.93 1)" text-anchor="middle" class="tk">6</text>
<path d="M32.40 9.78h3.00M233.50 9.78h-3.00" stroke="#222" stroke-width="0.6"/>
<text transform="translate(28.80 13.68) scale(0.93 1)" text-anchor="end" class="tk">0</text>
<path d="M32.40 65.40h3.00M233.50 65.40h-3.00" stroke="#222" stroke-width="0.6"/>
<text transform="translate(28.80 69.30) scale(0.93 1)" text-anchor="end" class="tk">2</text>
<path d="M32.40 121.02h3.00M233.50 121.02h-3.00" stroke="#222" stroke-width="0.6"/>
<text transform="translate(28.80 124.92) scale(0.93 1)" text-anchor="end" class="tk">4</text>
<path d="M32.40 176.64h3.00M233.50 176.64h-3.00" stroke="#222" stroke-width="0.6"/>
<text transform="translate(28.80 180.54) scale(0.93 1)" text-anchor="end" class="tk">6</text>
<path d="M32.40 232.27h3.00M233.50 232.27h-3.00" stroke="#222" stroke-width="0.6"/>
<text transform="translate(28.80 236.17) scale(0.93 1)" text-anchor="end" class="tk">8</text>
<path d="M32.40 287.89h3.00M233.50 287.89h-3.00" stroke="#222" stroke-width="0.6"/>
<text transform="translate(28.80 291.79) scale(0.93 1)" text-anchor="end" class="tk">10</text>
<path d="M32.40 343.51h3.00M233.50 343.51h-3.00" stroke="#222" stroke-width="0.6"/>
<text transform="translate(28.80 347.41) scale(0.93 1)" text-anchor="end" class="tk">12</text>
<text x="132.95" y="404.10" text-anchor="middle" class="lb">X(m)</text>
<text transform="translate(13.50 188.05) rotate(-90)" text-anchor="middle" class="lb">Y(m)</text>
<rect x="272.10" y="6.80" width="200.50" height="366.70" fill="none" stroke="#444" stroke-width="0.55"/>
<path d="M274.88 373.50v-3.00M274.88 6.80v3.00" stroke="#222" stroke-width="0.6"/>
<text transform="translate(274.88 388.60) scale(0.93 1)" text-anchor="middle" class="tk">0</text>
<path d="M330.58 373.50v-3.00M330.58 6.80v3.00" stroke="#222" stroke-width="0.6"/>
<text transform="translate(330.58 388.60) scale(0.93 1)" text-anchor="middle" class="tk">2</text>
<path d="M386.27 373.50v-3.00M386.27 6.80v3.00" stroke="#222" stroke-width="0.6"/>
<text transform="translate(386.27 388.60) scale(0.93 1)" text-anchor="middle" class="tk">4</text>
<path d="M441.97 373.50v-3.00M441.97 6.80v3.00" stroke="#222" stroke-width="0.6"/>
<text transform="translate(441.97 388.60) scale(0.93 1)" text-anchor="middle" class="tk">6</text>
<path d="M272.10 9.58h3.00M472.60 9.58h-3.00" stroke="#222" stroke-width="0.6"/>
<text transform="translate(268.50 13.48) scale(0.93 1)" text-anchor="end" class="tk">0</text>
<path d="M272.10 65.14h3.00M472.60 65.14h-3.00" stroke="#222" stroke-width="0.6"/>
<text transform="translate(268.50 69.04) scale(0.93 1)" text-anchor="end" class="tk">2</text>
<path d="M272.10 120.70h3.00M472.60 120.70h-3.00" stroke="#222" stroke-width="0.6"/>
<text transform="translate(268.50 124.60) scale(0.93 1)" text-anchor="end" class="tk">4</text>
<path d="M272.10 176.26h3.00M472.60 176.26h-3.00" stroke="#222" stroke-width="0.6"/>
<text transform="translate(268.50 180.16) scale(0.93 1)" text-anchor="end" class="tk">6</text>
<path d="M272.10 231.82h3.00M472.60 231.82h-3.00" stroke="#222" stroke-width="0.6"/>
<text transform="translate(268.50 235.72) scale(0.93 1)" text-anchor="end" class="tk">8</text>
<path d="M272.10 287.38h3.00M472.60 287.38h-3.00" stroke="#222" stroke-width="0.6"/>
<text transform="translate(268.50 291.28) scale(0.93 1)" text-anchor="end" class="tk">10</text>
<path d="M272.10 342.94h3.00M472.60 342.94h-3.00" stroke="#222" stroke-width="0.6"/>
<text transform="translate(268.50 346.84) scale(0.93 1)" text-anchor="end" class="tk">12</text>
<text x="372.35" y="403.50" text-anchor="middle" class="lb">X(m)</text>
<text transform="translate(253.20 187.65) rotate(-90)" text-anchor="middle" class="lb">Y(m)</text>
<g shape-rendering="crispEdges">
<rect x="495.50" y="7.25" width="9.30" height="5.85" fill="#f8f818"/>
<rect x="495.50" y="13.00" width="9.30" height="5.85" fill="#f6f21e"/>
<rect x="495.50" y="18.76" width="9.30" height="5.85" fill="#f5ec22"/>
<rect x="495.50" y="24.51" width="9.30" height="5.85" fill="#f5e626"/>
<rect x="495.50" y="30.27" width="9.30" height="5.85" fill="#f6e028"/>
<rect x="495.50" y="36.02" width="9.30" height="5.85" fill="#f8da2b"/>
<rect x="495.50" y="41.78" width="9.30" height="5.85" fill="#fbd32e"/>
<rect x="495.50" y="47.53" width="9.30" height="5.85" fill="#fdcd31"/>
<rect x="495.50" y="53.29" width="9.30" height="5.85" fill="#fec735"/>
<rect x="495.50" y="59.04" width="9.30" height="5.85" fill="#fec13a"/>
<rect x="495.50" y="64.80" width="9.30" height="5.85" fill="#fcbc3d"/>
<rect x="495.50" y="70.55" width="9.30" height="5.85" fill="#f5ba3b"/>
<rect x="495.50" y="76.31" width="9.30" height="5.85" fill="#edba33"/>
<rect x="495.50" y="82.06" width="9.30" height="5.85" fill="#e3bb2c"/>
<rect x="495.50" y="87.82" width="9.30" height="5.85" fill="#d9bd28"/>
<rect x="495.50" y="93.57" width="9.30" height="5.85" fill="#cec028"/>
<rect x="495.50" y="99.33" width="9.30" height="5.85" fill="#c2c22c"/>
<rect x="495.50" y="105.08" width="9.30" height="5.85" fill="#b6c533"/>
<rect x="495.50" y="110.83" width="9.30" height="5.85" fill="#a8c73b"/>
<rect x="495.50" y="116.59" width="9.30" height="5.85" fill="#9bc945"/>
<rect x="495.50" y="122.34" width="9.30" height="5.85" fill="#8dcb50"/>
<rect x="495.50" y="128.10" width="9.30" height="5.85" fill="#7ecc5b"/>
<rect x="495.50" y="133.85" width="9.30" height="5.85" fill="#70cd65"/>
<rect x="495.50" y="139.61" width="9.30" height="5.85" fill="#62cd71"/>
<rect x="495.50" y="145.36" width="9.30" height="5.85" fill="#55cc7b"/>
<rect x="495.50" y="151.12" width="9.30" height="5.85" fill="#49cb85"/>
<rect x="495.50" y="156.87" width="9.30" height="5.85" fill="#3eca8f"/>
<rect x="495.50" y="162.63" width="9.30" height="5.85" fill="#37c898"/>
<rect x="495.50" y="168.38" width="9.30" height="5.85" fill="#31c6a0"/>
<rect x="495.50" y="174.14" width="9.30" height="5.85" fill="#2bc3a7"/>
<rect x="495.50" y="179.89" width="9.30" height="5.85" fill="#24c1af"/>
<rect x="495.50" y="185.65" width="9.30" height="5.85" fill="#18bfb6"/>
<rect x="495.50" y="191.40" width="9.30" height="5.85" fill="#0bbdbc"/>
<rect x="495.50" y="197.15" width="9.30" height="5.85" fill="#02bbc3"/>
<rect x="495.50" y="202.91" width="9.30" height="5.85" fill="#01b8ca"/>
<rect x="495.50" y="208.66" width="9.30" height="5.85" fill="#07b5d0"/>
<rect x="495.50" y="214.42" width="9.30" height="5.85" fill="#11b1d6"/>
<rect x="495.50" y="220.17" width="9.30" height="5.85" fill="#18aedb"/>
<rect x="495.50" y="225.93" width="9.30" height="5.85" fill="#1caadf"/>
<rect x="495.50" y="231.68" width="9.30" height="5.85" fill="#1fa5e2"/>
<rect x="495.50" y="237.44" width="9.30" height="5.85" fill="#23a1e5"/>
<rect x="495.50" y="243.19" width="9.30" height="5.85" fill="#259ce7"/>
<rect x="495.50" y="248.95" width="9.30" height="5.85" fill="#2797ea"/>
<rect x="495.50" y="254.70" width="9.30" height="5.85" fill="#2a92ee"/>
<rect x="495.50" y="260.46" width="9.30" height="5.85" fill="#2d8df2"/>
<rect x="495.50" y="266.21" width="9.30" height="5.85" fill="#2d88f6"/>
<rect x="495.50" y="271.97" width="9.30" height="5.85" fill="#2e83f9"/>
<rect x="495.50" y="277.72" width="9.30" height="5.85" fill="#317dfc"/>
<rect x="495.50" y="283.48" width="9.30" height="5.85" fill="#3777fe"/>
<rect x="495.50" y="289.23" width="9.30" height="5.85" fill="#3d71ff"/>
<rect x="495.50" y="294.98" width="9.30" height="5.85" fill="#416bfe"/>
<rect x="495.50" y="300.74" width="9.30" height="5.85" fill="#4465fd"/>
<rect x="495.50" y="306.49" width="9.30" height="5.85" fill="#465ffb"/>
<rect x="495.50" y="312.25" width="9.30" height="5.85" fill="#475af9"/>
<rect x="495.50" y="318.00" width="9.30" height="5.85" fill="#4854f6"/>
<rect x="495.50" y="323.76" width="9.30" height="5.85" fill="#484ff2"/>
<rect x="495.50" y="329.51" width="9.30" height="5.85" fill="#4849ed"/>
<rect x="495.50" y="335.27" width="9.30" height="5.85" fill="#4744e8"/>
<rect x="495.50" y="341.02" width="9.30" height="5.85" fill="#463ee1"/>
<rect x="495.50" y="346.78" width="9.30" height="5.85" fill="#4539d9"/>
<rect x="495.50" y="352.53" width="9.30" height="5.85" fill="#4434cf"/>
<rect x="495.50" y="358.29" width="9.30" height="5.85" fill="#4330c5"/>
<rect x="495.50" y="364.04" width="9.30" height="5.85" fill="#412cba"/>
<rect x="495.50" y="369.80" width="9.30" height="5.85" fill="#3f28ae"/>
<rect x="495.50" y="7.30" width="9.30" height="368.30" fill="none" stroke="#333" stroke-width="0.6"/>
<path d="M504.80 375.60h-2" stroke="#222" stroke-width="0.6"/>
<text transform="translate(508.20 379.50) scale(0.93 1)" class="tk">0.12</text>
<path d="M504.80 329.56h-2" stroke="#222" stroke-width="0.6"/>
<text transform="translate(508.20 333.46) scale(0.93 1)" class="tk">0.125</text>
<path d="M504.80 283.53h-2" stroke="#222" stroke-width="0.6"/>
<text transform="translate(508.20 287.43) scale(0.93 1)" class="tk">0.13</text>
<path d="M504.80 237.49h-2" stroke="#222" stroke-width="0.6"/>
<text transform="translate(508.20 241.39) scale(0.93 1)" class="tk">0.135</text>
<path d="M504.80 191.45h-2" stroke="#222" stroke-width="0.6"/>
<text transform="translate(508.20 195.35) scale(0.93 1)" class="tk">0.14</text>
<path d="M504.80 145.41h-2" stroke="#222" stroke-width="0.6"/>
<text transform="translate(508.20 149.31) scale(0.93 1)" class="tk">0.145</text>
<path d="M504.80 99.38h-2" stroke="#222" stroke-width="0.6"/>
<text transform="translate(508.20 103.28) scale(0.93 1)" class="tk">0.15</text>
<path d="M504.80 53.34h-2" stroke="#222" stroke-width="0.6"/>
<text transform="translate(508.20 57.24) scale(0.93 1)" class="tk">0.155</text>
<path d="M504.80 7.30h-2" stroke="#222" stroke-width="0.6"/>
<text transform="translate(508.20 11.20) scale(0.93 1)" class="tk">0.16</text>
<text x="467.3" y="399.9" class="vl">Velocity (m/ns)</text>
</g>
</svg>
</body></html>
